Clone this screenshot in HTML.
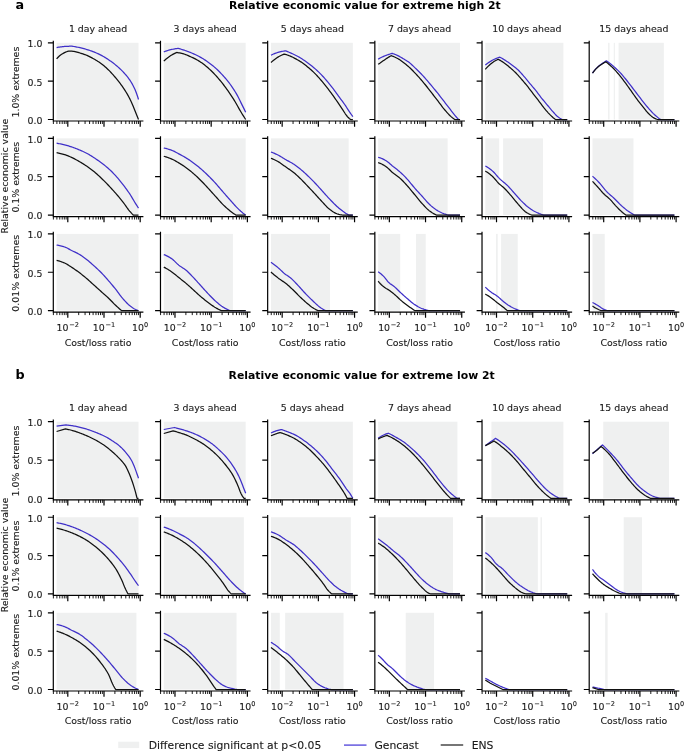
<!DOCTYPE html>
<html><head><meta charset="utf-8"><style>html,body{margin:0;padding:0;background:#fff;}svg{display:block;}</style></head>
<body>
<svg width="685" height="753" viewBox="0 0 685 753" font-family="'DejaVu Sans', 'Liberation Sans', sans-serif">
<rect width="685" height="753" fill="#fff"/>
<text x="15.4" y="8.9" font-size="12.74" font-weight="bold">a</text>
<text x="228.9" y="9.0" font-size="10.85" font-weight="bold">Relative economic value for extreme high 2t</text>
<rect x="56.60" y="42.80" width="81.90" height="76.70" fill="#eff0f0"/>
<path d="M56.60,47.51 L57.60,47.34 L58.60,47.18 L59.60,47.03 L60.60,46.89 L61.60,46.76 L62.60,46.65 L63.60,46.56 L64.60,46.49 L65.60,46.43 L66.60,46.37 L67.60,46.32 L68.60,46.27 L69.60,46.24 L70.60,46.21 L71.60,46.20 L71.90,46.20 L72.90,46.34 L73.90,46.50 L74.90,46.67 L75.90,46.85 L76.90,47.04 L77.90,47.24 L78.90,47.45 L79.90,47.66 L80.90,47.90 L81.90,48.14 L82.90,48.40 L83.90,48.67 L84.90,48.95 L85.90,49.23 L86.90,49.53 L87.90,49.83 L88.90,50.15 L89.90,50.48 L90.90,50.82 L91.90,51.18 L92.90,51.55 L93.90,51.93 L94.90,52.33 L95.90,52.76 L96.90,53.20 L97.90,53.66 L98.90,54.14 L99.90,54.64 L100.90,55.15 L101.90,55.67 L102.90,56.23 L103.90,56.80 L104.90,57.40 L105.90,58.02 L106.90,58.65 L107.90,59.30 L108.90,59.96 L109.90,60.65 L110.90,61.35 L111.90,62.08 L112.90,62.82 L113.90,63.59 L114.90,64.38 L115.90,65.20 L116.90,66.03 L117.90,66.89 L118.90,67.77 L119.90,68.68 L120.90,69.63 L121.90,70.62 L122.90,71.64 L123.90,72.71 L124.90,73.82 L125.90,74.97 L126.90,76.18 L127.90,77.44 L128.90,78.79 L129.90,80.21 L130.90,81.73 L131.90,83.38 L132.90,85.19 L133.90,87.17 L134.90,89.34 L135.90,91.80 L136.90,94.56 L137.90,97.57 L138.50,99.48" fill="none" stroke="#3f30c8" stroke-width="1.25" stroke-linejoin="round" stroke-linecap="butt"/>
<path d="M56.60,58.90 L57.60,57.79 L58.60,56.75 L59.60,55.80 L60.60,54.96 L61.60,54.27 L62.60,53.69 L63.60,53.13 L64.60,52.61 L65.60,52.15 L66.60,51.75 L67.60,51.44 L68.60,51.22 L68.98,51.16 L69.98,51.17 L70.98,51.20 L71.98,51.24 L72.98,51.29 L73.98,51.36 L74.98,51.54 L75.98,51.78 L76.98,52.08 L77.98,52.39 L78.98,52.70 L79.98,52.99 L80.98,53.30 L81.98,53.61 L82.98,53.94 L83.98,54.29 L84.98,54.66 L85.98,55.04 L86.98,55.45 L87.98,55.88 L88.98,56.35 L89.98,56.85 L90.98,57.36 L91.98,57.89 L92.98,58.44 L93.98,59.00 L94.98,59.57 L95.98,60.17 L96.98,60.78 L97.98,61.42 L98.98,62.08 L99.98,62.77 L100.98,63.48 L101.98,64.23 L102.98,65.02 L103.98,65.84 L104.98,66.70 L105.98,67.59 L106.98,68.50 L107.98,69.45 L108.98,70.42 L109.98,71.43 L110.98,72.49 L111.98,73.58 L112.98,74.71 L113.98,75.86 L114.98,77.03 L115.98,78.22 L116.98,79.42 L117.98,80.64 L118.98,81.90 L119.98,83.19 L120.98,84.52 L121.98,85.90 L122.98,87.34 L123.98,88.84 L124.98,90.39 L125.98,91.99 L126.98,93.66 L127.98,95.41 L128.98,97.24 L129.98,99.15 L130.98,101.20 L131.98,103.46 L132.98,105.86 L133.98,108.31 L134.98,110.73 L135.98,113.17 L136.98,115.65 L137.98,118.17 L138.50,119.50" fill="none" stroke="#111" stroke-width="1.25" stroke-linejoin="round" stroke-linecap="butt"/>
<path d="M53.30,41.27 L53.30,121.00 L142.80,121.00" fill="none" stroke="#000" stroke-width="1.2" stroke-linecap="square"/>
<path d="M47.90,119.50H53.30M47.90,81.15H53.30M47.90,42.80H53.30M67.80,121.00V126.70M104.00,121.00V126.70M140.20,121.00V126.70" stroke="#000" stroke-width="1.2" fill="none"/>
<path d="M53.39,121.00V124.00M56.90,121.00V124.00M59.77,121.00V124.00M62.19,121.00V124.00M64.29,121.00V124.00M66.14,121.00V124.00M78.70,121.00V124.00M85.07,121.00V124.00M89.59,121.00V124.00M93.10,121.00V124.00M95.97,121.00V124.00M98.39,121.00V124.00M100.49,121.00V124.00M102.34,121.00V124.00M114.90,121.00V124.00M121.27,121.00V124.00M125.79,121.00V124.00M129.30,121.00V124.00M132.17,121.00V124.00M134.59,121.00V124.00M136.69,121.00V124.00M138.54,121.00V124.00" stroke="#000" stroke-width="0.9" fill="none"/>
<text x="42.4" y="123.90" font-size="9.4" text-anchor="end" fill="#1a1a1a" stroke="#1a1a1a" stroke-width="0.12">0.0</text>
<text x="42.4" y="85.55" font-size="9.4" text-anchor="end" fill="#1a1a1a" stroke="#1a1a1a" stroke-width="0.12">0.5</text>
<text x="42.4" y="47.20" font-size="9.4" text-anchor="end" fill="#1a1a1a" stroke="#1a1a1a" stroke-width="0.12">1.0</text>
<text x="98.05" y="32.20" font-size="9.4" text-anchor="middle" fill="#1a1a1a" stroke="#1a1a1a" stroke-width="0.12">1 day ahead</text>
<rect x="163.78" y="42.80" width="81.90" height="76.70" fill="#eff0f0"/>
<path d="M163.78,51.89 L164.78,51.51 L165.78,51.15 L166.78,50.81 L167.78,50.49 L168.78,50.20 L169.78,49.93 L170.78,49.70 L171.78,49.47 L172.78,49.26 L173.78,49.06 L174.78,48.87 L175.78,48.70 L176.78,48.55 L177.78,48.43 L178.17,48.39 L179.17,48.66 L180.17,48.94 L181.17,49.23 L182.17,49.53 L183.17,49.85 L184.17,50.18 L185.17,50.51 L186.17,50.86 L187.17,51.22 L188.17,51.59 L189.17,51.97 L190.17,52.37 L191.17,52.78 L192.17,53.21 L193.17,53.64 L194.17,54.09 L195.17,54.55 L196.17,55.03 L197.17,55.52 L198.17,56.02 L199.17,56.55 L200.17,57.09 L201.17,57.65 L202.17,58.23 L203.17,58.83 L204.17,59.46 L205.17,60.11 L206.17,60.77 L207.17,61.46 L208.17,62.16 L209.17,62.89 L210.17,63.64 L211.17,64.41 L212.17,65.21 L213.17,66.03 L214.17,66.88 L215.17,67.75 L216.17,68.65 L217.17,69.58 L218.17,70.54 L219.17,71.54 L220.17,72.56 L221.17,73.61 L222.17,74.68 L223.17,75.77 L224.17,76.88 L225.17,78.01 L226.17,79.18 L227.17,80.38 L228.17,81.62 L229.17,82.91 L230.17,84.25 L231.17,85.64 L232.17,87.09 L233.17,88.59 L234.17,90.15 L235.17,91.77 L236.17,93.44 L237.17,95.17 L238.17,97.02 L239.17,99.00 L240.17,101.07 L241.17,103.13 L242.17,105.15 L243.17,107.15 L244.17,109.15 L245.17,111.16 L245.68,112.18" fill="none" stroke="#3f30c8" stroke-width="1.25" stroke-linejoin="round" stroke-linecap="butt"/>
<path d="M163.78,61.09 L164.78,60.17 L165.78,59.29 L166.78,58.44 L167.78,57.65 L168.78,56.90 L169.78,56.21 L170.78,55.57 L171.78,54.96 L172.78,54.38 L173.78,53.83 L174.78,53.33 L175.78,52.86 L176.71,52.47 L177.71,52.60 L178.71,52.76 L179.71,52.94 L180.71,53.15 L181.71,53.39 L182.71,53.64 L183.71,53.91 L184.71,54.23 L185.71,54.59 L186.71,54.99 L187.71,55.42 L188.71,55.87 L189.71,56.32 L190.71,56.77 L191.71,57.22 L192.71,57.68 L193.71,58.15 L194.71,58.65 L195.71,59.16 L196.71,59.70 L197.71,60.26 L198.71,60.86 L199.71,61.49 L200.71,62.16 L201.71,62.86 L202.71,63.58 L203.71,64.33 L204.71,65.10 L205.71,65.89 L206.71,66.72 L207.71,67.57 L208.71,68.46 L209.71,69.38 L210.71,70.32 L211.71,71.28 L212.71,72.27 L213.71,73.28 L214.71,74.33 L215.71,75.41 L216.71,76.52 L217.71,77.65 L218.71,78.81 L219.71,79.99 L220.71,81.19 L221.71,82.43 L222.71,83.70 L223.71,85.00 L224.71,86.32 L225.71,87.67 L226.71,89.05 L227.71,90.44 L228.71,91.87 L229.71,93.32 L230.71,94.80 L231.71,96.31 L232.71,97.86 L233.71,99.44 L234.71,101.05 L235.71,102.76 L236.71,104.52 L237.71,106.32 L238.71,108.12 L239.71,109.87 L240.71,111.55 L241.71,113.20 L242.71,114.82 L243.71,116.42 L244.71,118.00 L245.68,119.50" fill="none" stroke="#111" stroke-width="1.25" stroke-linejoin="round" stroke-linecap="butt"/>
<path d="M160.48,41.27 L160.48,121.00 L249.98,121.00" fill="none" stroke="#000" stroke-width="1.2" stroke-linecap="square"/>
<path d="M155.08,119.50H160.48M155.08,81.15H160.48M155.08,42.80H160.48M174.98,121.00V126.70M211.18,121.00V126.70M247.38,121.00V126.70" stroke="#000" stroke-width="1.2" fill="none"/>
<path d="M160.57,121.00V124.00M164.08,121.00V124.00M166.95,121.00V124.00M169.37,121.00V124.00M171.47,121.00V124.00M173.32,121.00V124.00M185.88,121.00V124.00M192.25,121.00V124.00M196.77,121.00V124.00M200.28,121.00V124.00M203.15,121.00V124.00M205.57,121.00V124.00M207.67,121.00V124.00M209.52,121.00V124.00M222.08,121.00V124.00M228.45,121.00V124.00M232.97,121.00V124.00M236.48,121.00V124.00M239.35,121.00V124.00M241.77,121.00V124.00M243.87,121.00V124.00M245.72,121.00V124.00" stroke="#000" stroke-width="0.9" fill="none"/>
<text x="205.23" y="32.20" font-size="9.4" text-anchor="middle" fill="#1a1a1a" stroke="#1a1a1a" stroke-width="0.12">3 days ahead</text>
<rect x="270.96" y="42.80" width="81.90" height="76.70" fill="#eff0f0"/>
<path d="M270.96,55.20 L271.96,54.70 L272.96,54.23 L273.96,53.80 L274.96,53.41 L275.96,53.07 L276.96,52.75 L277.96,52.46 L278.96,52.19 L279.96,51.94 L280.96,51.70 L281.96,51.47 L282.96,51.26 L283.96,51.07 L284.96,50.89 L285.50,50.80 L286.50,51.20 L287.50,51.61 L288.50,52.03 L289.50,52.46 L290.50,52.90 L291.50,53.35 L292.50,53.80 L293.50,54.26 L294.50,54.73 L295.50,55.20 L296.50,55.70 L297.50,56.21 L298.50,56.76 L299.50,57.34 L300.50,57.95 L301.50,58.59 L302.50,59.25 L303.50,59.93 L304.50,60.60 L305.50,61.29 L306.50,62.00 L307.50,62.72 L308.50,63.46 L309.50,64.22 L310.50,64.99 L311.50,65.78 L312.50,66.59 L313.50,67.42 L314.50,68.27 L315.50,69.14 L316.50,70.04 L317.50,70.96 L318.50,71.90 L319.50,72.87 L320.50,73.87 L321.50,74.89 L322.50,75.95 L323.50,77.04 L324.50,78.17 L325.50,79.32 L326.50,80.49 L327.50,81.68 L328.50,82.89 L329.50,84.12 L330.50,85.37 L331.50,86.64 L332.50,87.93 L333.50,89.23 L334.50,90.56 L335.50,91.91 L336.50,93.28 L337.50,94.66 L338.50,96.04 L339.50,97.41 L340.50,98.76 L341.50,100.11 L342.50,101.46 L343.50,102.83 L344.50,104.24 L345.50,105.69 L346.50,107.23 L347.50,108.81 L348.50,110.38 L349.50,111.91 L350.50,113.35 L351.50,114.76 L352.50,116.12 L352.86,116.60" fill="none" stroke="#3f30c8" stroke-width="1.25" stroke-linejoin="round" stroke-linecap="butt"/>
<path d="M270.96,62.50 L271.96,61.63 L272.96,60.79 L273.96,59.99 L274.96,59.23 L275.96,58.50 L276.96,57.79 L277.96,57.12 L278.96,56.51 L279.96,55.96 L280.96,55.47 L281.96,55.00 L282.96,54.58 L283.96,54.21 L284.30,54.10 L285.30,54.37 L286.30,54.68 L287.30,55.01 L288.30,55.37 L289.30,55.74 L290.30,56.14 L291.30,56.57 L292.30,57.05 L293.30,57.55 L294.30,58.08 L295.30,58.62 L296.30,59.16 L297.30,59.71 L298.30,60.28 L299.30,60.86 L300.30,61.47 L301.30,62.10 L302.30,62.77 L303.30,63.49 L304.30,64.25 L305.30,65.04 L306.30,65.85 L307.30,66.67 L308.30,67.50 L309.30,68.34 L310.30,69.19 L311.30,70.07 L312.30,70.98 L313.30,71.91 L314.30,72.88 L315.30,73.88 L316.30,74.92 L317.30,75.98 L318.30,77.08 L319.30,78.19 L320.30,79.33 L321.30,80.51 L322.30,81.71 L323.30,82.94 L324.30,84.18 L325.30,85.42 L326.30,86.68 L327.30,87.94 L328.30,89.22 L329.30,90.51 L330.30,91.83 L331.30,93.17 L332.30,94.54 L333.30,95.93 L334.30,97.35 L335.30,98.78 L336.30,100.23 L337.30,101.69 L338.30,103.17 L339.30,104.68 L340.30,106.20 L341.30,107.71 L342.30,109.21 L343.30,110.70 L344.30,112.25 L345.30,113.78 L346.30,115.22 L347.30,116.49 L348.30,117.56 L349.30,118.52 L350.30,119.35 L350.50,119.50 L352.86,119.50" fill="none" stroke="#111" stroke-width="1.25" stroke-linejoin="round" stroke-linecap="butt"/>
<path d="M267.66,41.27 L267.66,121.00 L357.16,121.00" fill="none" stroke="#000" stroke-width="1.2" stroke-linecap="square"/>
<path d="M262.26,119.50H267.66M262.26,81.15H267.66M262.26,42.80H267.66M282.16,121.00V126.70M318.36,121.00V126.70M354.56,121.00V126.70" stroke="#000" stroke-width="1.2" fill="none"/>
<path d="M267.75,121.00V124.00M271.26,121.00V124.00M274.13,121.00V124.00M276.55,121.00V124.00M278.65,121.00V124.00M280.50,121.00V124.00M293.06,121.00V124.00M299.43,121.00V124.00M303.95,121.00V124.00M307.46,121.00V124.00M310.33,121.00V124.00M312.75,121.00V124.00M314.85,121.00V124.00M316.70,121.00V124.00M329.26,121.00V124.00M335.63,121.00V124.00M340.15,121.00V124.00M343.66,121.00V124.00M346.53,121.00V124.00M348.95,121.00V124.00M351.05,121.00V124.00M352.90,121.00V124.00" stroke="#000" stroke-width="0.9" fill="none"/>
<text x="312.41" y="32.20" font-size="9.4" text-anchor="middle" fill="#1a1a1a" stroke="#1a1a1a" stroke-width="0.12">5 days ahead</text>
<rect x="378.14" y="42.80" width="81.90" height="76.70" fill="#eff0f0"/>
<path d="M378.14,59.20 L379.14,58.58 L380.14,58.03 L381.14,57.52 L382.14,57.04 L383.14,56.59 L384.14,56.16 L385.14,55.75 L386.14,55.37 L387.14,55.01 L388.14,54.66 L389.14,54.32 L390.14,54.01 L391.14,53.71 L392.14,53.44 L392.30,53.40 L393.30,53.75 L394.30,54.12 L395.30,54.53 L396.30,54.95 L397.30,55.41 L398.30,55.89 L399.30,56.41 L400.30,56.97 L401.30,57.55 L402.30,58.14 L403.30,58.74 L404.30,59.33 L405.30,59.93 L406.30,60.54 L407.30,61.17 L408.30,61.85 L409.30,62.58 L410.30,63.38 L411.30,64.26 L412.30,65.20 L413.30,66.16 L414.30,67.13 L415.30,68.08 L416.30,69.04 L417.30,70.00 L418.30,70.97 L419.30,71.97 L420.30,72.98 L421.30,74.02 L422.30,75.08 L423.30,76.17 L424.30,77.28 L425.30,78.41 L426.30,79.54 L427.30,80.69 L428.30,81.86 L429.30,83.04 L430.30,84.23 L431.30,85.43 L432.30,86.64 L433.30,87.84 L434.30,89.05 L435.30,90.27 L436.30,91.49 L437.30,92.73 L438.30,93.97 L439.30,95.24 L440.30,96.53 L441.30,97.83 L442.30,99.13 L443.30,100.43 L444.30,101.73 L445.30,103.02 L446.30,104.31 L447.30,105.60 L448.30,106.88 L449.30,108.17 L450.30,109.46 L451.30,110.76 L452.30,112.06 L453.30,113.35 L454.30,114.61 L455.30,115.82 L456.30,117.01 L457.30,118.16 L458.30,119.28 L458.50,119.50 L460.04,119.50" fill="none" stroke="#3f30c8" stroke-width="1.25" stroke-linejoin="round" stroke-linecap="butt"/>
<path d="M378.14,64.30 L379.14,63.66 L380.14,63.01 L381.14,62.31 L382.14,61.60 L383.14,60.87 L384.14,60.15 L385.14,59.45 L386.14,58.78 L387.14,58.13 L388.14,57.49 L389.14,56.87 L390.14,56.27 L391.10,55.70 L392.10,56.01 L393.10,56.36 L394.10,56.77 L395.10,57.21 L396.10,57.69 L397.10,58.19 L398.10,58.73 L399.10,59.35 L400.10,60.04 L401.10,60.76 L402.10,61.52 L403.10,62.27 L404.10,63.03 L405.10,63.80 L406.10,64.58 L407.10,65.40 L408.10,66.24 L409.10,67.11 L410.10,68.03 L411.10,68.99 L412.10,69.99 L413.10,71.01 L414.10,72.06 L415.10,73.10 L416.10,74.16 L417.10,75.24 L418.10,76.34 L419.10,77.45 L420.10,78.58 L421.10,79.73 L422.10,80.90 L423.10,82.09 L424.10,83.30 L425.10,84.52 L426.10,85.75 L427.10,87.00 L428.10,88.27 L429.10,89.55 L430.10,90.85 L431.10,92.15 L432.10,93.45 L433.10,94.75 L434.10,96.04 L435.10,97.33 L436.10,98.62 L437.10,99.91 L438.10,101.21 L439.10,102.52 L440.10,103.86 L441.10,105.21 L442.10,106.54 L443.10,107.84 L444.10,109.08 L445.10,110.27 L446.10,111.44 L447.10,112.58 L448.10,113.68 L449.10,114.72 L450.10,115.70 L451.10,116.62 L452.10,117.48 L453.10,118.30 L454.10,119.07 L454.70,119.50 L455.70,119.50 L456.70,119.50 L457.70,119.50 L458.70,119.50 L459.70,119.50 L460.04,119.50" fill="none" stroke="#111" stroke-width="1.25" stroke-linejoin="round" stroke-linecap="butt"/>
<path d="M374.84,41.27 L374.84,121.00 L464.34,121.00" fill="none" stroke="#000" stroke-width="1.2" stroke-linecap="square"/>
<path d="M369.44,119.50H374.84M369.44,81.15H374.84M369.44,42.80H374.84M389.34,121.00V126.70M425.54,121.00V126.70M461.74,121.00V126.70" stroke="#000" stroke-width="1.2" fill="none"/>
<path d="M374.93,121.00V124.00M378.44,121.00V124.00M381.31,121.00V124.00M383.73,121.00V124.00M385.83,121.00V124.00M387.68,121.00V124.00M400.24,121.00V124.00M406.61,121.00V124.00M411.13,121.00V124.00M414.64,121.00V124.00M417.51,121.00V124.00M419.93,121.00V124.00M422.03,121.00V124.00M423.88,121.00V124.00M436.44,121.00V124.00M442.81,121.00V124.00M447.33,121.00V124.00M450.84,121.00V124.00M453.71,121.00V124.00M456.13,121.00V124.00M458.23,121.00V124.00M460.08,121.00V124.00" stroke="#000" stroke-width="0.9" fill="none"/>
<text x="419.59" y="32.20" font-size="9.4" text-anchor="middle" fill="#1a1a1a" stroke="#1a1a1a" stroke-width="0.12">7 days ahead</text>
<rect x="485.32" y="42.80" width="78.08" height="76.70" fill="#eff0f0"/>
<path d="M485.32,64.90 L486.32,64.16 L487.32,63.45 L488.32,62.77 L489.32,62.12 L490.32,61.50 L491.32,60.90 L492.32,60.32 L493.32,59.77 L494.32,59.27 L495.32,58.83 L496.32,58.42 L497.32,58.03 L498.32,57.68 L499.32,57.36 L499.90,57.20 L500.90,57.75 L501.90,58.32 L502.90,58.91 L503.90,59.52 L504.90,60.14 L505.90,60.78 L506.90,61.43 L507.90,62.10 L508.90,62.79 L509.90,63.50 L510.90,64.23 L511.90,64.97 L512.90,65.73 L513.90,66.49 L514.90,67.27 L515.90,68.07 L516.90,68.91 L517.90,69.81 L518.90,70.77 L519.90,71.80 L520.90,72.89 L521.90,74.01 L522.90,75.15 L523.90,76.30 L524.90,77.46 L525.90,78.66 L526.90,79.88 L527.90,81.11 L528.90,82.33 L529.90,83.54 L530.90,84.72 L531.90,85.89 L532.90,87.06 L533.90,88.24 L534.90,89.44 L535.90,90.68 L536.90,91.96 L537.90,93.29 L538.90,94.63 L539.90,95.96 L540.90,97.26 L541.90,98.52 L542.90,99.75 L543.90,100.96 L544.90,102.16 L545.90,103.35 L546.90,104.54 L547.90,105.74 L548.90,106.96 L549.90,108.17 L550.90,109.37 L551.90,110.55 L552.90,111.68 L553.90,112.79 L554.90,113.90 L555.90,114.96 L556.90,115.93 L557.90,116.75 L558.90,117.49 L559.90,118.16 L560.90,118.77 L561.90,119.28 L562.40,119.50 L563.40,119.50 L564.40,119.50 L565.40,119.50 L566.40,119.50 L567.22,119.50" fill="none" stroke="#3f30c8" stroke-width="1.25" stroke-linejoin="round" stroke-linecap="butt"/>
<path d="M485.32,69.30 L486.32,68.19 L487.32,67.13 L488.32,66.13 L489.32,65.20 L490.32,64.33 L491.32,63.50 L492.32,62.72 L493.32,62.00 L494.32,61.33 L495.32,60.74 L496.32,60.19 L497.32,59.69 L498.20,59.30 L499.20,59.83 L500.20,60.39 L501.20,60.98 L502.20,61.61 L503.20,62.26 L504.20,62.94 L505.20,63.66 L506.20,64.43 L507.20,65.23 L508.20,66.06 L509.20,66.90 L510.20,67.76 L511.20,68.62 L512.20,69.50 L513.20,70.41 L514.20,71.34 L515.20,72.30 L516.20,73.31 L517.20,74.36 L518.20,75.45 L519.20,76.57 L520.20,77.71 L521.20,78.86 L522.20,80.00 L523.20,81.16 L524.20,82.33 L525.20,83.52 L526.20,84.72 L527.20,85.95 L528.20,87.21 L529.20,88.51 L530.20,89.83 L531.20,91.16 L532.20,92.49 L533.20,93.80 L534.20,95.09 L535.20,96.38 L536.20,97.66 L537.20,98.95 L538.20,100.23 L539.20,101.53 L540.20,102.85 L541.20,104.20 L542.20,105.54 L543.20,106.86 L544.20,108.14 L545.20,109.36 L546.20,110.54 L547.20,111.69 L548.20,112.81 L549.20,113.88 L550.20,114.91 L551.20,115.88 L552.20,116.81 L553.20,117.70 L554.20,118.54 L555.20,119.35 L555.40,119.50 L556.40,119.50 L557.40,119.50 L558.40,119.50 L559.40,119.50 L560.40,119.50 L561.40,119.50 L562.40,119.50 L563.40,119.50 L564.40,119.50 L565.40,119.50 L566.40,119.50 L567.22,119.50" fill="none" stroke="#111" stroke-width="1.25" stroke-linejoin="round" stroke-linecap="butt"/>
<path d="M482.02,41.27 L482.02,121.00 L571.52,121.00" fill="none" stroke="#000" stroke-width="1.2" stroke-linecap="square"/>
<path d="M476.62,119.50H482.02M476.62,81.15H482.02M476.62,42.80H482.02M496.52,121.00V126.70M532.72,121.00V126.70M568.92,121.00V126.70" stroke="#000" stroke-width="1.2" fill="none"/>
<path d="M482.11,121.00V124.00M485.62,121.00V124.00M488.49,121.00V124.00M490.91,121.00V124.00M493.01,121.00V124.00M494.86,121.00V124.00M507.42,121.00V124.00M513.79,121.00V124.00M518.31,121.00V124.00M521.82,121.00V124.00M524.69,121.00V124.00M527.11,121.00V124.00M529.21,121.00V124.00M531.06,121.00V124.00M543.62,121.00V124.00M549.99,121.00V124.00M554.51,121.00V124.00M558.02,121.00V124.00M560.89,121.00V124.00M563.31,121.00V124.00M565.41,121.00V124.00M567.26,121.00V124.00" stroke="#000" stroke-width="0.9" fill="none"/>
<text x="526.77" y="32.20" font-size="9.4" text-anchor="middle" fill="#1a1a1a" stroke="#1a1a1a" stroke-width="0.12">10 days ahead</text>
<rect x="608.07" y="42.80" width="1.46" height="76.70" fill="#eff0f0"/>
<rect x="613.76" y="42.80" width="1.17" height="76.70" fill="#eff0f0"/>
<rect x="618.58" y="42.80" width="45.26" height="76.70" fill="#eff0f0"/>
<path d="M592.50,73.10 L593.50,71.70 L594.50,70.39 L595.50,69.19 L596.50,68.10 L597.50,67.13 L598.50,66.28 L599.50,65.49 L600.50,64.76 L601.50,64.04 L602.50,63.33 L603.50,62.65 L604.50,61.98 L605.50,61.35 L606.40,60.80 L607.40,61.51 L608.40,62.25 L609.40,63.01 L610.40,63.79 L611.40,64.60 L612.40,65.42 L613.40,66.27 L614.40,67.14 L615.40,68.02 L616.40,68.94 L617.40,69.89 L618.40,70.87 L619.40,71.88 L620.40,72.92 L621.40,74.02 L622.40,75.16 L623.40,76.34 L624.40,77.55 L625.40,78.77 L626.40,79.99 L627.40,81.25 L628.40,82.53 L629.40,83.83 L630.40,85.14 L631.40,86.45 L632.40,87.75 L633.40,89.06 L634.40,90.37 L635.40,91.69 L636.40,93.00 L637.40,94.31 L638.40,95.61 L639.40,96.91 L640.40,98.21 L641.40,99.51 L642.40,100.79 L643.40,102.05 L644.40,103.30 L645.40,104.54 L646.40,105.77 L647.40,106.98 L648.40,108.16 L649.40,109.30 L650.40,110.41 L651.40,111.50 L652.40,112.56 L653.40,113.58 L654.40,114.55 L655.40,115.45 L656.40,116.32 L657.40,117.14 L658.40,117.93 L659.40,118.67 L660.40,119.37 L660.60,119.50 L661.60,119.50 L662.60,119.50 L663.60,119.50 L664.60,119.50 L665.60,119.50 L666.60,119.50 L667.60,119.50 L668.60,119.50 L669.60,119.50 L670.60,119.50 L671.60,119.50 L672.60,119.50 L673.60,119.50 L674.40,119.50" fill="none" stroke="#3f30c8" stroke-width="1.25" stroke-linejoin="round" stroke-linecap="butt"/>
<path d="M592.50,73.10 L593.50,71.79 L594.50,70.56 L595.50,69.42 L596.50,68.38 L597.50,67.45 L598.50,66.60 L599.50,65.82 L600.50,65.09 L601.50,64.40 L602.50,63.74 L603.50,63.11 L604.50,62.51 L605.50,61.96 L605.80,61.80 L606.80,62.55 L607.80,63.34 L608.80,64.17 L609.80,65.03 L610.80,65.93 L611.80,66.86 L612.80,67.81 L613.80,68.80 L614.80,69.84 L615.80,70.93 L616.80,72.06 L617.80,73.23 L618.80,74.42 L619.80,75.63 L620.80,76.88 L621.80,78.16 L622.80,79.47 L623.80,80.80 L624.80,82.13 L625.80,83.48 L626.80,84.85 L627.80,86.24 L628.80,87.65 L629.80,89.05 L630.80,90.46 L631.80,91.87 L632.80,93.30 L633.80,94.74 L634.80,96.17 L635.80,97.57 L636.80,98.93 L637.80,100.27 L638.80,101.58 L639.80,102.87 L640.80,104.14 L641.80,105.40 L642.80,106.65 L643.80,107.92 L644.80,109.21 L645.80,110.48 L646.80,111.68 L647.80,112.79 L648.80,113.79 L649.80,114.74 L650.80,115.64 L651.80,116.49 L652.80,117.24 L653.80,117.88 L654.80,118.40 L655.80,118.86 L656.80,119.24 L657.70,119.50 L674.40,119.50" fill="none" stroke="#111" stroke-width="1.25" stroke-linejoin="round" stroke-linecap="butt"/>
<path d="M589.20,41.27 L589.20,121.00 L678.70,121.00" fill="none" stroke="#000" stroke-width="1.2" stroke-linecap="square"/>
<path d="M583.80,119.50H589.20M583.80,81.15H589.20M583.80,42.80H589.20M603.70,121.00V126.70M639.90,121.00V126.70M676.10,121.00V126.70" stroke="#000" stroke-width="1.2" fill="none"/>
<path d="M589.29,121.00V124.00M592.80,121.00V124.00M595.67,121.00V124.00M598.09,121.00V124.00M600.19,121.00V124.00M602.04,121.00V124.00M614.60,121.00V124.00M620.97,121.00V124.00M625.49,121.00V124.00M629.00,121.00V124.00M631.87,121.00V124.00M634.29,121.00V124.00M636.39,121.00V124.00M638.24,121.00V124.00M650.80,121.00V124.00M657.17,121.00V124.00M661.69,121.00V124.00M665.20,121.00V124.00M668.07,121.00V124.00M670.49,121.00V124.00M672.59,121.00V124.00M674.44,121.00V124.00" stroke="#000" stroke-width="0.9" fill="none"/>
<text x="633.95" y="32.20" font-size="9.4" text-anchor="middle" fill="#1a1a1a" stroke="#1a1a1a" stroke-width="0.12">15 days ahead</text>
<text transform="translate(19.1,82.15) rotate(-90)" font-size="9.4" text-anchor="middle" fill="#1a1a1a" stroke="#1a1a1a" stroke-width="0.12">1.0% extremes</text>
<rect x="56.60" y="138.35" width="81.90" height="76.70" fill="#eff0f0"/>
<path d="M56.60,143.24 L57.60,143.40 L58.60,143.57 L59.60,143.75 L60.60,143.95 L61.60,144.16 L62.60,144.38 L63.60,144.61 L64.60,144.85 L65.60,145.10 L66.60,145.37 L67.60,145.66 L68.60,145.96 L69.60,146.28 L70.60,146.61 L71.60,146.94 L72.60,147.28 L73.60,147.63 L74.60,147.99 L75.60,148.37 L76.60,148.76 L77.60,149.16 L78.60,149.56 L79.60,149.98 L80.60,150.40 L81.60,150.84 L82.60,151.28 L83.60,151.74 L84.60,152.22 L85.60,152.71 L86.60,153.22 L87.60,153.76 L88.60,154.33 L89.60,154.91 L90.60,155.52 L91.60,156.14 L92.60,156.78 L93.60,157.42 L94.60,158.07 L95.60,158.74 L96.60,159.42 L97.60,160.12 L98.60,160.83 L99.60,161.55 L100.60,162.29 L101.60,163.03 L102.60,163.79 L103.60,164.55 L104.60,165.33 L105.60,166.13 L106.60,166.95 L107.60,167.80 L108.60,168.68 L109.60,169.59 L110.60,170.54 L111.60,171.52 L112.60,172.52 L113.60,173.56 L114.60,174.61 L115.60,175.69 L116.60,176.80 L117.60,177.94 L118.60,179.10 L119.60,180.30 L120.60,181.53 L121.60,182.78 L122.60,184.05 L123.60,185.34 L124.60,186.66 L125.60,188.01 L126.60,189.39 L127.60,190.79 L128.60,192.24 L129.60,193.72 L130.60,195.25 L131.60,196.88 L132.60,198.57 L133.60,200.28 L134.60,201.96 L135.60,203.58 L136.60,205.19 L137.60,206.78 L138.50,208.20" fill="none" stroke="#3f30c8" stroke-width="1.25" stroke-linejoin="round" stroke-linecap="butt"/>
<path d="M56.60,152.73 L57.60,152.90 L58.60,153.09 L59.60,153.30 L60.60,153.53 L61.60,153.78 L62.60,154.05 L63.60,154.33 L64.60,154.63 L65.60,154.95 L66.60,155.30 L67.60,155.68 L68.60,156.09 L69.60,156.51 L70.60,156.96 L71.60,157.41 L72.60,157.88 L73.60,158.37 L74.60,158.90 L75.60,159.44 L76.60,160.00 L77.60,160.57 L78.60,161.14 L79.60,161.72 L80.60,162.31 L81.60,162.90 L82.60,163.51 L83.60,164.13 L84.60,164.77 L85.60,165.42 L86.60,166.08 L87.60,166.77 L88.60,167.47 L89.60,168.19 L90.60,168.93 L91.60,169.68 L92.60,170.46 L93.60,171.26 L94.60,172.08 L95.60,172.93 L96.60,173.82 L97.60,174.72 L98.60,175.64 L99.60,176.57 L100.60,177.52 L101.60,178.47 L102.60,179.43 L103.60,180.41 L104.60,181.40 L105.60,182.41 L106.60,183.42 L107.60,184.46 L108.60,185.50 L109.60,186.56 L110.60,187.63 L111.60,188.72 L112.60,189.82 L113.60,190.94 L114.60,192.07 L115.60,193.21 L116.60,194.36 L117.60,195.52 L118.60,196.69 L119.60,197.88 L120.60,199.08 L121.60,200.31 L122.60,201.57 L123.60,202.87 L124.60,204.25 L125.60,205.68 L126.60,207.11 L127.60,208.50 L128.60,209.81 L129.60,211.04 L130.60,212.21 L131.60,213.34 L132.60,214.41 L133.21,215.05 L138.50,215.05" fill="none" stroke="#111" stroke-width="1.25" stroke-linejoin="round" stroke-linecap="butt"/>
<path d="M53.30,136.82 L53.30,216.55 L142.80,216.55" fill="none" stroke="#000" stroke-width="1.2" stroke-linecap="square"/>
<path d="M47.90,215.05H53.30M47.90,176.70H53.30M47.90,138.35H53.30M67.80,216.55V222.25M104.00,216.55V222.25M140.20,216.55V222.25" stroke="#000" stroke-width="1.2" fill="none"/>
<path d="M53.39,216.55V219.55M56.90,216.55V219.55M59.77,216.55V219.55M62.19,216.55V219.55M64.29,216.55V219.55M66.14,216.55V219.55M78.70,216.55V219.55M85.07,216.55V219.55M89.59,216.55V219.55M93.10,216.55V219.55M95.97,216.55V219.55M98.39,216.55V219.55M100.49,216.55V219.55M102.34,216.55V219.55M114.90,216.55V219.55M121.27,216.55V219.55M125.79,216.55V219.55M129.30,216.55V219.55M132.17,216.55V219.55M134.59,216.55V219.55M136.69,216.55V219.55M138.54,216.55V219.55" stroke="#000" stroke-width="0.9" fill="none"/>
<text x="42.4" y="219.45" font-size="9.4" text-anchor="end" fill="#1a1a1a" stroke="#1a1a1a" stroke-width="0.12">0.0</text>
<text x="42.4" y="181.10" font-size="9.4" text-anchor="end" fill="#1a1a1a" stroke="#1a1a1a" stroke-width="0.12">0.5</text>
<text x="42.4" y="142.75" font-size="9.4" text-anchor="end" fill="#1a1a1a" stroke="#1a1a1a" stroke-width="0.12">1.0</text>
<rect x="163.78" y="138.35" width="81.90" height="76.70" fill="#eff0f0"/>
<path d="M163.78,148.06 L164.78,148.24 L165.78,148.46 L166.78,148.71 L167.78,148.99 L168.78,149.29 L169.78,149.62 L170.78,149.96 L171.78,150.31 L172.78,150.72 L173.78,151.18 L174.78,151.68 L175.78,152.20 L176.78,152.75 L177.78,153.30 L178.78,153.84 L179.78,154.37 L180.78,154.90 L181.78,155.44 L182.78,155.99 L183.78,156.56 L184.78,157.13 L185.78,157.73 L186.78,158.35 L187.78,158.98 L188.78,159.64 L189.78,160.31 L190.78,161.00 L191.78,161.71 L192.78,162.43 L193.78,163.16 L194.78,163.91 L195.78,164.68 L196.78,165.47 L197.78,166.27 L198.78,167.09 L199.78,167.93 L200.78,168.77 L201.78,169.64 L202.78,170.52 L203.78,171.43 L204.78,172.35 L205.78,173.28 L206.78,174.23 L207.78,175.20 L208.78,176.18 L209.78,177.18 L210.78,178.19 L211.78,179.23 L212.78,180.28 L213.78,181.34 L214.78,182.42 L215.78,183.52 L216.78,184.65 L217.78,185.80 L218.78,186.97 L219.78,188.15 L220.78,189.33 L221.78,190.50 L222.78,191.66 L223.78,192.81 L224.78,193.96 L225.78,195.11 L226.78,196.25 L227.78,197.39 L228.78,198.52 L229.78,199.64 L230.78,200.77 L231.78,201.90 L232.78,203.03 L233.78,204.16 L234.78,205.27 L235.78,206.35 L236.78,207.39 L237.78,208.40 L238.78,209.38 L239.78,210.33 L240.78,211.23 L241.78,212.09 L242.78,212.91 L243.78,213.68 L244.78,214.42 L245.68,215.05" fill="none" stroke="#3f30c8" stroke-width="1.25" stroke-linejoin="round" stroke-linecap="butt"/>
<path d="M163.78,156.23 L164.78,156.51 L165.78,156.81 L166.78,157.14 L167.78,157.49 L168.78,157.86 L169.78,158.25 L170.78,158.66 L171.78,159.09 L172.78,159.54 L173.78,160.04 L174.78,160.57 L175.78,161.13 L176.78,161.70 L177.78,162.29 L178.78,162.88 L179.78,163.48 L180.78,164.10 L181.78,164.74 L182.78,165.39 L183.78,166.07 L184.78,166.76 L185.78,167.47 L186.78,168.19 L187.78,168.94 L188.78,169.71 L189.78,170.50 L190.78,171.32 L191.78,172.14 L192.78,172.99 L193.78,173.85 L194.78,174.74 L195.78,175.64 L196.78,176.57 L197.78,177.52 L198.78,178.48 L199.78,179.46 L200.78,180.45 L201.78,181.46 L202.78,182.50 L203.78,183.55 L204.78,184.62 L205.78,185.70 L206.78,186.78 L207.78,187.86 L208.78,188.95 L209.78,190.04 L210.78,191.14 L211.78,192.24 L212.78,193.35 L213.78,194.45 L214.78,195.56 L215.78,196.66 L216.78,197.78 L217.78,198.92 L218.78,200.05 L219.78,201.17 L220.78,202.27 L221.78,203.33 L222.78,204.35 L223.78,205.33 L224.78,206.28 L225.78,207.21 L226.78,208.11 L227.78,208.99 L228.78,209.84 L229.78,210.66 L230.78,211.45 L231.78,212.22 L232.78,212.96 L233.78,213.67 L234.78,214.36 L235.78,215.02 L235.83,215.05 L245.68,215.05" fill="none" stroke="#111" stroke-width="1.25" stroke-linejoin="round" stroke-linecap="butt"/>
<path d="M160.48,136.82 L160.48,216.55 L249.98,216.55" fill="none" stroke="#000" stroke-width="1.2" stroke-linecap="square"/>
<path d="M155.08,215.05H160.48M155.08,176.70H160.48M155.08,138.35H160.48M174.98,216.55V222.25M211.18,216.55V222.25M247.38,216.55V222.25" stroke="#000" stroke-width="1.2" fill="none"/>
<path d="M160.57,216.55V219.55M164.08,216.55V219.55M166.95,216.55V219.55M169.37,216.55V219.55M171.47,216.55V219.55M173.32,216.55V219.55M185.88,216.55V219.55M192.25,216.55V219.55M196.77,216.55V219.55M200.28,216.55V219.55M203.15,216.55V219.55M205.57,216.55V219.55M207.67,216.55V219.55M209.52,216.55V219.55M222.08,216.55V219.55M228.45,216.55V219.55M232.97,216.55V219.55M236.48,216.55V219.55M239.35,216.55V219.55M241.77,216.55V219.55M243.87,216.55V219.55M245.72,216.55V219.55" stroke="#000" stroke-width="0.9" fill="none"/>
<rect x="270.96" y="138.35" width="77.71" height="76.70" fill="#eff0f0"/>
<path d="M270.96,152.00 L271.96,152.37 L272.96,152.76 L273.96,153.18 L274.96,153.62 L275.96,154.07 L276.96,154.55 L277.96,155.04 L278.96,155.54 L279.96,156.10 L280.96,156.69 L281.96,157.30 L282.96,157.93 L283.96,158.56 L284.96,159.18 L285.96,159.77 L286.96,160.34 L287.96,160.88 L288.96,161.41 L289.96,161.95 L290.96,162.50 L291.96,163.07 L292.96,163.67 L293.96,164.32 L294.96,165.00 L295.96,165.71 L296.96,166.45 L297.96,167.21 L298.96,167.99 L299.96,168.79 L300.96,169.61 L301.96,170.45 L302.96,171.32 L303.96,172.22 L304.96,173.13 L305.96,174.06 L306.96,175.01 L307.96,175.95 L308.96,176.91 L309.96,177.88 L310.96,178.87 L311.96,179.87 L312.96,180.89 L313.96,181.91 L314.96,182.95 L315.96,184.01 L316.96,185.09 L317.96,186.19 L318.96,187.30 L319.96,188.42 L320.96,189.53 L321.96,190.65 L322.96,191.75 L323.96,192.86 L324.96,193.98 L325.96,195.09 L326.96,196.20 L327.96,197.30 L328.96,198.38 L329.96,199.43 L330.96,200.48 L331.96,201.53 L332.96,202.56 L333.96,203.57 L334.96,204.56 L335.96,205.51 L336.96,206.42 L337.96,207.30 L338.96,208.16 L339.96,208.99 L340.96,209.80 L341.96,210.58 L342.96,211.34 L343.96,212.06 L344.96,212.75 L345.96,213.41 L346.96,214.04 L347.96,214.64 L348.67,215.05 L352.86,215.05" fill="none" stroke="#3f30c8" stroke-width="1.25" stroke-linejoin="round" stroke-linecap="butt"/>
<path d="M270.96,158.28 L271.96,158.66 L272.96,159.07 L273.96,159.52 L274.96,159.99 L275.96,160.50 L276.96,161.02 L277.96,161.57 L278.96,162.14 L279.96,162.76 L280.96,163.44 L281.96,164.15 L282.96,164.89 L283.96,165.63 L284.96,166.37 L285.96,167.08 L286.96,167.77 L287.96,168.44 L288.96,169.11 L289.96,169.79 L290.96,170.49 L291.96,171.21 L292.96,171.96 L293.96,172.76 L294.96,173.60 L295.96,174.47 L296.96,175.37 L297.96,176.30 L298.96,177.24 L299.96,178.20 L300.96,179.17 L301.96,180.16 L302.96,181.19 L303.96,182.24 L304.96,183.30 L305.96,184.36 L306.96,185.42 L307.96,186.48 L308.96,187.53 L309.96,188.58 L310.96,189.64 L311.96,190.69 L312.96,191.76 L313.96,192.82 L314.96,193.90 L315.96,194.99 L316.96,196.09 L317.96,197.21 L318.96,198.33 L319.96,199.44 L320.96,200.54 L321.96,201.62 L322.96,202.67 L323.96,203.75 L324.96,204.84 L325.96,205.91 L326.96,206.94 L327.96,207.91 L328.96,208.79 L329.96,209.57 L330.96,210.31 L331.96,211.03 L332.96,211.71 L333.96,212.33 L334.96,212.89 L335.96,213.36 L336.96,213.74 L337.96,214.05 L338.96,214.35 L339.96,214.61 L340.96,214.82 L341.96,214.97 L342.83,215.05 L352.86,215.05" fill="none" stroke="#111" stroke-width="1.25" stroke-linejoin="round" stroke-linecap="butt"/>
<path d="M267.66,136.82 L267.66,216.55 L357.16,216.55" fill="none" stroke="#000" stroke-width="1.2" stroke-linecap="square"/>
<path d="M262.26,215.05H267.66M262.26,176.70H267.66M262.26,138.35H267.66M282.16,216.55V222.25M318.36,216.55V222.25M354.56,216.55V222.25" stroke="#000" stroke-width="1.2" fill="none"/>
<path d="M267.75,216.55V219.55M271.26,216.55V219.55M274.13,216.55V219.55M276.55,216.55V219.55M278.65,216.55V219.55M280.50,216.55V219.55M293.06,216.55V219.55M299.43,216.55V219.55M303.95,216.55V219.55M307.46,216.55V219.55M310.33,216.55V219.55M312.75,216.55V219.55M314.85,216.55V219.55M316.70,216.55V219.55M329.26,216.55V219.55M335.63,216.55V219.55M340.15,216.55V219.55M343.66,216.55V219.55M346.53,216.55V219.55M348.95,216.55V219.55M351.05,216.55V219.55M352.90,216.55V219.55" stroke="#000" stroke-width="0.9" fill="none"/>
<rect x="378.14" y="138.35" width="69.50" height="76.70" fill="#eff0f0"/>
<path d="M378.14,157.26 L379.14,157.53 L380.14,157.87 L381.14,158.25 L382.14,158.69 L383.14,159.16 L384.14,159.67 L385.14,160.21 L386.14,160.79 L387.14,161.47 L388.14,162.24 L389.14,163.08 L390.14,163.95 L391.14,164.82 L392.14,165.68 L393.14,166.50 L394.14,167.28 L395.14,168.06 L396.14,168.83 L397.14,169.61 L398.14,170.41 L399.14,171.23 L400.14,172.10 L401.14,173.00 L402.14,173.94 L403.14,174.91 L404.14,175.91 L405.14,176.93 L406.14,177.98 L407.14,179.06 L408.14,180.16 L409.14,181.32 L410.14,182.53 L411.14,183.77 L412.14,185.01 L413.14,186.24 L414.14,187.44 L415.14,188.60 L416.14,189.73 L417.14,190.83 L418.14,191.93 L419.14,193.02 L420.14,194.10 L421.14,195.19 L422.14,196.28 L423.14,197.41 L424.14,198.55 L425.14,199.71 L426.14,200.86 L427.14,201.97 L428.14,203.03 L429.14,204.02 L430.14,204.95 L431.14,205.85 L432.14,206.71 L433.14,207.54 L434.14,208.33 L435.14,209.07 L436.14,209.75 L437.14,210.37 L438.14,210.96 L439.14,211.52 L440.14,212.05 L441.14,212.55 L442.14,213.01 L443.14,213.43 L444.14,213.81 L445.14,214.15 L446.14,214.47 L447.14,214.75 L448.14,215.00 L448.37,215.05 L460.04,215.05" fill="none" stroke="#3f30c8" stroke-width="1.25" stroke-linejoin="round" stroke-linecap="butt"/>
<path d="M378.14,162.66 L379.14,162.97 L380.14,163.36 L381.14,163.80 L382.14,164.29 L383.14,164.83 L384.14,165.41 L385.14,166.02 L386.14,166.67 L387.14,167.46 L388.14,168.35 L389.14,169.31 L390.14,170.30 L391.14,171.29 L392.14,172.22 L393.14,173.07 L394.14,173.85 L395.14,174.59 L396.14,175.31 L397.14,176.03 L398.14,176.76 L399.14,177.54 L400.14,178.37 L401.14,179.28 L402.14,180.25 L403.14,181.26 L404.14,182.32 L405.14,183.40 L406.14,184.50 L407.14,185.62 L408.14,186.74 L409.14,187.90 L410.14,189.09 L411.14,190.31 L412.14,191.53 L413.14,192.76 L414.14,193.98 L415.14,195.19 L416.14,196.41 L417.14,197.64 L418.14,198.88 L419.14,200.10 L420.14,201.30 L421.14,202.47 L422.14,203.58 L423.14,204.68 L424.14,205.78 L425.14,206.87 L426.14,207.92 L427.14,208.91 L428.14,209.82 L429.14,210.64 L430.14,211.37 L431.14,212.06 L432.14,212.72 L433.14,213.33 L434.14,213.89 L435.14,214.40 L436.14,214.84 L436.69,215.05 L437.69,215.05 L438.69,215.05 L439.69,215.05 L440.69,215.05 L441.69,215.05 L442.69,215.05 L443.69,215.05 L444.69,215.05 L445.69,215.05 L446.69,215.05 L447.69,215.05 L448.69,215.05 L449.69,215.05 L450.69,215.05 L451.69,215.05 L452.69,215.05 L453.69,215.05 L454.69,215.05 L455.69,215.05 L456.69,215.05 L457.69,215.05 L458.69,215.05 L459.69,215.05 L460.04,215.05" fill="none" stroke="#111" stroke-width="1.25" stroke-linejoin="round" stroke-linecap="butt"/>
<path d="M374.84,136.82 L374.84,216.55 L464.34,216.55" fill="none" stroke="#000" stroke-width="1.2" stroke-linecap="square"/>
<path d="M369.44,215.05H374.84M369.44,176.70H374.84M369.44,138.35H374.84M389.34,216.55V222.25M425.54,216.55V222.25M461.74,216.55V222.25" stroke="#000" stroke-width="1.2" fill="none"/>
<path d="M374.93,216.55V219.55M378.44,216.55V219.55M381.31,216.55V219.55M383.73,216.55V219.55M385.83,216.55V219.55M387.68,216.55V219.55M400.24,216.55V219.55M406.61,216.55V219.55M411.13,216.55V219.55M414.64,216.55V219.55M417.51,216.55V219.55M419.93,216.55V219.55M422.03,216.55V219.55M423.88,216.55V219.55M436.44,216.55V219.55M442.81,216.55V219.55M447.33,216.55V219.55M450.84,216.55V219.55M453.71,216.55V219.55M456.13,216.55V219.55M458.23,216.55V219.55M460.08,216.55V219.55" stroke="#000" stroke-width="0.9" fill="none"/>
<rect x="485.32" y="138.35" width="13.85" height="76.70" fill="#eff0f0"/>
<rect x="503.11" y="138.35" width="39.85" height="76.70" fill="#eff0f0"/>
<path d="M485.32,166.01 L486.32,166.56 L487.32,167.16 L488.32,167.82 L489.32,168.52 L490.32,169.27 L491.32,170.06 L492.32,170.89 L493.32,171.78 L494.32,172.79 L495.32,173.90 L496.32,175.05 L497.32,176.22 L498.32,177.36 L499.32,178.43 L500.32,179.40 L501.32,180.30 L502.32,181.14 L503.32,181.95 L504.32,182.77 L505.32,183.60 L506.32,184.47 L507.32,185.40 L508.32,186.41 L509.32,187.48 L510.32,188.58 L511.32,189.71 L512.32,190.86 L513.32,192.00 L514.32,193.12 L515.32,194.23 L516.32,195.36 L517.32,196.49 L518.32,197.62 L519.32,198.74 L520.32,199.82 L521.32,200.87 L522.32,201.86 L523.32,202.85 L524.32,203.82 L525.32,204.76 L526.32,205.67 L527.32,206.53 L528.32,207.33 L529.32,208.07 L530.32,208.77 L531.32,209.44 L532.32,210.08 L533.32,210.68 L534.32,211.24 L535.32,211.77 L536.32,212.26 L537.32,212.71 L538.32,213.15 L539.32,213.57 L540.32,213.96 L541.32,214.32 L542.32,214.65 L543.32,214.95 L543.69,215.05 L567.22,215.05" fill="none" stroke="#3f30c8" stroke-width="1.25" stroke-linejoin="round" stroke-linecap="butt"/>
<path d="M485.32,171.12 L486.32,171.69 L487.32,172.32 L488.32,173.01 L489.32,173.76 L490.32,174.56 L491.32,175.40 L492.32,176.28 L493.32,177.22 L494.32,178.32 L495.32,179.51 L496.32,180.72 L497.32,181.90 L498.32,182.98 L499.32,183.93 L500.32,184.80 L501.32,185.63 L502.32,186.46 L503.32,187.32 L504.32,188.25 L505.32,189.25 L506.32,190.29 L507.32,191.38 L508.32,192.50 L509.32,193.64 L510.32,194.79 L511.32,195.94 L512.32,197.10 L513.32,198.31 L514.32,199.54 L515.32,200.78 L516.32,202.01 L517.32,203.22 L518.32,204.38 L519.32,205.48 L520.32,206.61 L521.32,207.73 L522.32,208.84 L523.32,209.89 L524.32,210.85 L525.32,211.69 L526.32,212.38 L527.32,212.99 L528.32,213.56 L529.32,214.07 L530.32,214.51 L531.32,214.86 L532.01,215.05 L567.22,215.05" fill="none" stroke="#111" stroke-width="1.25" stroke-linejoin="round" stroke-linecap="butt"/>
<path d="M482.02,136.82 L482.02,216.55 L571.52,216.55" fill="none" stroke="#000" stroke-width="1.2" stroke-linecap="square"/>
<path d="M476.62,215.05H482.02M476.62,176.70H482.02M476.62,138.35H482.02M496.52,216.55V222.25M532.72,216.55V222.25M568.92,216.55V222.25" stroke="#000" stroke-width="1.2" fill="none"/>
<path d="M482.11,216.55V219.55M485.62,216.55V219.55M488.49,216.55V219.55M490.91,216.55V219.55M493.01,216.55V219.55M494.86,216.55V219.55M507.42,216.55V219.55M513.79,216.55V219.55M518.31,216.55V219.55M521.82,216.55V219.55M524.69,216.55V219.55M527.11,216.55V219.55M529.21,216.55V219.55M531.06,216.55V219.55M543.62,216.55V219.55M549.99,216.55V219.55M554.51,216.55V219.55M558.02,216.55V219.55M560.89,216.55V219.55M563.31,216.55V219.55M565.41,216.55V219.55M567.26,216.55V219.55" stroke="#000" stroke-width="0.9" fill="none"/>
<rect x="592.50" y="138.35" width="40.97" height="76.70" fill="#eff0f0"/>
<path d="M592.50,176.23 L593.50,177.10 L594.50,178.01 L595.50,178.94 L596.50,179.91 L597.50,180.91 L598.50,181.94 L599.50,182.99 L600.50,184.10 L601.50,185.30 L602.50,186.56 L603.50,187.83 L604.50,189.09 L605.50,190.31 L606.50,191.43 L607.50,192.46 L608.50,193.41 L609.50,194.31 L610.50,195.17 L611.50,196.03 L612.50,196.89 L613.50,197.78 L614.50,198.71 L615.50,199.70 L616.50,200.72 L617.50,201.77 L618.50,202.80 L619.50,203.82 L620.50,204.80 L621.50,205.73 L622.50,206.61 L623.50,207.47 L624.50,208.31 L625.50,209.12 L626.50,209.90 L627.50,210.65 L628.50,211.36 L629.50,212.03 L630.50,212.68 L631.50,213.30 L632.50,213.89 L633.50,214.45 L634.50,214.98 L634.64,215.05 L674.40,215.05" fill="none" stroke="#3f30c8" stroke-width="1.25" stroke-linejoin="round" stroke-linecap="butt"/>
<path d="M592.50,181.34 L593.50,182.42 L594.50,183.49 L595.50,184.58 L596.50,185.67 L597.50,186.77 L598.50,187.88 L599.50,189.02 L600.50,190.19 L601.50,191.36 L602.50,192.49 L603.50,193.56 L604.50,194.54 L605.50,195.43 L606.50,196.27 L607.50,197.09 L608.50,197.94 L609.50,198.85 L610.50,199.85 L611.50,200.95 L612.50,202.10 L613.50,203.28 L614.50,204.44 L615.50,205.56 L616.50,206.61 L617.50,207.66 L618.50,208.69 L619.50,209.69 L620.50,210.65 L621.50,211.57 L622.50,212.43 L623.50,213.25 L624.50,214.04 L625.50,214.78 L625.88,215.05 L674.40,215.05" fill="none" stroke="#111" stroke-width="1.25" stroke-linejoin="round" stroke-linecap="butt"/>
<path d="M589.20,136.82 L589.20,216.55 L678.70,216.55" fill="none" stroke="#000" stroke-width="1.2" stroke-linecap="square"/>
<path d="M583.80,215.05H589.20M583.80,176.70H589.20M583.80,138.35H589.20M603.70,216.55V222.25M639.90,216.55V222.25M676.10,216.55V222.25" stroke="#000" stroke-width="1.2" fill="none"/>
<path d="M589.29,216.55V219.55M592.80,216.55V219.55M595.67,216.55V219.55M598.09,216.55V219.55M600.19,216.55V219.55M602.04,216.55V219.55M614.60,216.55V219.55M620.97,216.55V219.55M625.49,216.55V219.55M629.00,216.55V219.55M631.87,216.55V219.55M634.29,216.55V219.55M636.39,216.55V219.55M638.24,216.55V219.55M650.80,216.55V219.55M657.17,216.55V219.55M661.69,216.55V219.55M665.20,216.55V219.55M668.07,216.55V219.55M670.49,216.55V219.55M672.59,216.55V219.55M674.44,216.55V219.55" stroke="#000" stroke-width="0.9" fill="none"/>
<text transform="translate(8.0,176.10) rotate(-90)" font-size="9.4" text-anchor="middle" fill="#1a1a1a" stroke="#1a1a1a" stroke-width="0.12">Relative economic value</text>
<text transform="translate(19.1,177.20) rotate(-90)" font-size="9.4" text-anchor="middle" fill="#1a1a1a" stroke="#1a1a1a" stroke-width="0.12">0.1% extremes</text>
<rect x="56.60" y="233.90" width="81.90" height="76.70" fill="#eff0f0"/>
<path d="M56.60,245.08 L57.60,245.20 L58.60,245.37 L59.60,245.57 L60.60,245.81 L61.60,246.07 L62.60,246.36 L63.60,246.66 L64.60,246.98 L65.60,247.35 L66.60,247.79 L67.60,248.30 L68.60,248.83 L69.60,249.39 L70.60,249.95 L71.60,250.48 L72.60,250.97 L73.60,251.45 L74.60,251.93 L75.60,252.40 L76.60,252.89 L77.60,253.40 L78.60,253.94 L79.60,254.52 L80.60,255.14 L81.60,255.80 L82.60,256.49 L83.60,257.20 L84.60,257.94 L85.60,258.70 L86.60,259.47 L87.60,260.26 L88.60,261.09 L89.60,261.94 L90.60,262.81 L91.60,263.69 L92.60,264.59 L93.60,265.49 L94.60,266.39 L95.60,267.29 L96.60,268.21 L97.60,269.13 L98.60,270.08 L99.60,271.04 L100.60,272.03 L101.60,273.04 L102.60,274.09 L103.60,275.16 L104.60,276.26 L105.60,277.37 L106.60,278.50 L107.60,279.64 L108.60,280.79 L109.60,281.95 L110.60,283.12 L111.60,284.31 L112.60,285.51 L113.60,286.73 L114.60,287.96 L115.60,289.20 L116.60,290.47 L117.60,291.80 L118.60,293.16 L119.60,294.51 L120.60,295.85 L121.60,297.14 L122.60,298.35 L123.60,299.49 L124.60,300.60 L125.60,301.68 L126.60,302.72 L127.60,303.72 L128.60,304.66 L129.60,305.54 L130.60,306.34 L131.60,307.10 L132.60,307.79 L133.60,308.43 L134.60,308.99 L135.60,309.48 L136.60,309.92 L137.60,310.31 L138.50,310.60" fill="none" stroke="#3f30c8" stroke-width="1.25" stroke-linejoin="round" stroke-linecap="butt"/>
<path d="M56.60,260.41 L57.60,260.62 L58.60,260.87 L59.60,261.16 L60.60,261.48 L61.60,261.84 L62.60,262.22 L63.60,262.62 L64.60,263.04 L65.60,263.50 L66.60,264.04 L67.60,264.62 L68.60,265.25 L69.60,265.90 L70.60,266.56 L71.60,267.22 L72.60,267.87 L73.60,268.54 L74.60,269.22 L75.60,269.92 L76.60,270.63 L77.60,271.35 L78.60,272.08 L79.60,272.83 L80.60,273.59 L81.60,274.37 L82.60,275.16 L83.60,275.96 L84.60,276.78 L85.60,277.61 L86.60,278.45 L87.60,279.32 L88.60,280.20 L89.60,281.10 L90.60,282.02 L91.60,282.93 L92.60,283.85 L93.60,284.76 L94.60,285.66 L95.60,286.56 L96.60,287.46 L97.60,288.36 L98.60,289.26 L99.60,290.16 L100.60,291.06 L101.60,291.96 L102.60,292.85 L103.60,293.73 L104.60,294.62 L105.60,295.51 L106.60,296.41 L107.60,297.33 L108.60,298.27 L109.60,299.24 L110.60,300.25 L111.60,301.27 L112.60,302.30 L113.60,303.32 L114.60,304.32 L115.60,305.28 L116.60,306.22 L117.60,307.14 L118.60,308.04 L119.60,308.93 L120.60,309.80 L121.53,310.60 L138.50,310.60" fill="none" stroke="#111" stroke-width="1.25" stroke-linejoin="round" stroke-linecap="butt"/>
<path d="M53.30,232.37 L53.30,312.10 L142.80,312.10" fill="none" stroke="#000" stroke-width="1.2" stroke-linecap="square"/>
<path d="M47.90,310.60H53.30M47.90,272.25H53.30M47.90,233.90H53.30M67.80,312.10V317.80M104.00,312.10V317.80M140.20,312.10V317.80" stroke="#000" stroke-width="1.2" fill="none"/>
<path d="M53.39,312.10V315.10M56.90,312.10V315.10M59.77,312.10V315.10M62.19,312.10V315.10M64.29,312.10V315.10M66.14,312.10V315.10M78.70,312.10V315.10M85.07,312.10V315.10M89.59,312.10V315.10M93.10,312.10V315.10M95.97,312.10V315.10M98.39,312.10V315.10M100.49,312.10V315.10M102.34,312.10V315.10M114.90,312.10V315.10M121.27,312.10V315.10M125.79,312.10V315.10M129.30,312.10V315.10M132.17,312.10V315.10M134.59,312.10V315.10M136.69,312.10V315.10M138.54,312.10V315.10" stroke="#000" stroke-width="0.9" fill="none"/>
<text x="42.4" y="315.00" font-size="9.4" text-anchor="end" fill="#1a1a1a" stroke="#1a1a1a" stroke-width="0.12">0.0</text>
<text x="42.4" y="276.65" font-size="9.4" text-anchor="end" fill="#1a1a1a" stroke="#1a1a1a" stroke-width="0.12">0.5</text>
<text x="42.4" y="238.30" font-size="9.4" text-anchor="end" fill="#1a1a1a" stroke="#1a1a1a" stroke-width="0.12">1.0</text>
<text x="56.62" y="330.60" font-size="9.4" fill="#1a1a1a" stroke="#1a1a1a" stroke-width="0.12">10<tspan font-size="6.58" dy="-3.4" dx="0.7">−2</tspan></text>
<text x="92.82" y="330.60" font-size="9.4" fill="#1a1a1a" stroke="#1a1a1a" stroke-width="0.12">10<tspan font-size="6.58" dy="-3.4" dx="0.7">−1</tspan></text>
<text x="132.08" y="330.60" font-size="9.4" fill="#1a1a1a" stroke="#1a1a1a" stroke-width="0.12">10<tspan font-size="6.58" dy="-3.4" dx="0.1">0</tspan></text>
<text x="98.05" y="345.50" font-size="9.4" text-anchor="middle" fill="#1a1a1a" stroke="#1a1a1a" stroke-width="0.12">Cost/loss ratio</text>
<rect x="163.78" y="233.90" width="69.13" height="76.70" fill="#eff0f0"/>
<path d="M163.78,254.57 L164.78,254.93 L165.78,255.35 L166.78,255.82 L167.78,256.33 L168.78,256.89 L169.78,257.49 L170.78,258.12 L171.78,258.78 L172.78,259.54 L173.78,260.42 L174.78,261.37 L175.78,262.35 L176.78,263.34 L177.78,264.28 L178.78,265.13 L179.78,265.89 L180.78,266.59 L181.78,267.25 L182.78,267.90 L183.78,268.56 L184.78,269.25 L185.78,270.00 L186.78,270.83 L187.78,271.73 L188.78,272.70 L189.78,273.71 L190.78,274.76 L191.78,275.82 L192.78,276.88 L193.78,277.93 L194.78,279.00 L195.78,280.09 L196.78,281.19 L197.78,282.31 L198.78,283.43 L199.78,284.54 L200.78,285.65 L201.78,286.75 L202.78,287.87 L203.78,288.98 L204.78,290.10 L205.78,291.20 L206.78,292.29 L207.78,293.36 L208.78,294.41 L209.78,295.46 L210.78,296.50 L211.78,297.52 L212.78,298.53 L213.78,299.50 L214.78,300.44 L215.78,301.34 L216.78,302.22 L217.78,303.09 L218.78,303.93 L219.78,304.74 L220.78,305.51 L221.78,306.23 L222.78,306.89 L223.78,307.50 L224.78,308.09 L225.78,308.65 L226.78,309.17 L227.78,309.66 L228.78,310.11 L229.78,310.52 L229.99,310.60 L230.99,310.60 L231.99,310.60 L232.99,310.60 L233.99,310.60 L234.99,310.60 L235.99,310.60 L236.99,310.60 L237.99,310.60 L238.99,310.60 L239.99,310.60 L240.99,310.60 L241.99,310.60 L242.99,310.60 L243.99,310.60 L244.99,310.60 L245.68,310.60" fill="none" stroke="#3f30c8" stroke-width="1.25" stroke-linejoin="round" stroke-linecap="butt"/>
<path d="M163.78,267.12 L164.78,267.63 L165.78,268.17 L166.78,268.74 L167.78,269.33 L168.78,269.94 L169.78,270.58 L170.78,271.24 L171.78,271.92 L172.78,272.65 L173.78,273.42 L174.78,274.22 L175.78,275.05 L176.78,275.89 L177.78,276.72 L178.78,277.54 L179.78,278.34 L180.78,279.12 L181.78,279.91 L182.78,280.70 L183.78,281.49 L184.78,282.30 L185.78,283.12 L186.78,283.97 L187.78,284.85 L188.78,285.74 L189.78,286.65 L190.78,287.57 L191.78,288.48 L192.78,289.40 L193.78,290.30 L194.78,291.21 L195.78,292.13 L196.78,293.04 L197.78,293.95 L198.78,294.85 L199.78,295.74 L200.78,296.60 L201.78,297.44 L202.78,298.27 L203.78,299.09 L204.78,299.89 L205.78,300.68 L206.78,301.46 L207.78,302.22 L208.78,302.96 L209.78,303.71 L210.78,304.45 L211.78,305.17 L212.78,305.87 L213.78,306.55 L214.78,307.19 L215.78,307.79 L216.78,308.36 L217.78,308.91 L218.78,309.43 L219.78,309.93 L220.78,310.40 L221.23,310.60 L245.68,310.60" fill="none" stroke="#111" stroke-width="1.25" stroke-linejoin="round" stroke-linecap="butt"/>
<path d="M160.48,232.37 L160.48,312.10 L249.98,312.10" fill="none" stroke="#000" stroke-width="1.2" stroke-linecap="square"/>
<path d="M155.08,310.60H160.48M155.08,272.25H160.48M155.08,233.90H160.48M174.98,312.10V317.80M211.18,312.10V317.80M247.38,312.10V317.80" stroke="#000" stroke-width="1.2" fill="none"/>
<path d="M160.57,312.10V315.10M164.08,312.10V315.10M166.95,312.10V315.10M169.37,312.10V315.10M171.47,312.10V315.10M173.32,312.10V315.10M185.88,312.10V315.10M192.25,312.10V315.10M196.77,312.10V315.10M200.28,312.10V315.10M203.15,312.10V315.10M205.57,312.10V315.10M207.67,312.10V315.10M209.52,312.10V315.10M222.08,312.10V315.10M228.45,312.10V315.10M232.97,312.10V315.10M236.48,312.10V315.10M239.35,312.10V315.10M241.77,312.10V315.10M243.87,312.10V315.10M245.72,312.10V315.10" stroke="#000" stroke-width="0.9" fill="none"/>
<text x="163.80" y="330.60" font-size="9.4" fill="#1a1a1a" stroke="#1a1a1a" stroke-width="0.12">10<tspan font-size="6.58" dy="-3.4" dx="0.7">−2</tspan></text>
<text x="200.00" y="330.60" font-size="9.4" fill="#1a1a1a" stroke="#1a1a1a" stroke-width="0.12">10<tspan font-size="6.58" dy="-3.4" dx="0.7">−1</tspan></text>
<text x="239.26" y="330.60" font-size="9.4" fill="#1a1a1a" stroke="#1a1a1a" stroke-width="0.12">10<tspan font-size="6.58" dy="-3.4" dx="0.1">0</tspan></text>
<text x="205.23" y="345.50" font-size="9.4" text-anchor="middle" fill="#1a1a1a" stroke="#1a1a1a" stroke-width="0.12">Cost/loss ratio</text>
<rect x="270.96" y="233.90" width="59.03" height="76.70" fill="#eff0f0"/>
<path d="M270.96,262.31 L271.96,262.99 L272.96,263.71 L273.96,264.44 L274.96,265.21 L275.96,265.99 L276.96,266.79 L277.96,267.61 L278.96,268.46 L279.96,269.37 L280.96,270.33 L281.96,271.31 L282.96,272.26 L283.96,273.15 L284.96,273.95 L285.96,274.66 L286.96,275.32 L287.96,275.97 L288.96,276.64 L289.96,277.38 L290.96,278.21 L291.96,279.12 L292.96,280.09 L293.96,281.11 L294.96,282.16 L295.96,283.22 L296.96,284.28 L297.96,285.34 L298.96,286.42 L299.96,287.53 L300.96,288.65 L301.96,289.77 L302.96,290.89 L303.96,291.99 L304.96,293.05 L305.96,294.09 L306.96,295.12 L307.96,296.14 L308.96,297.14 L309.96,298.13 L310.96,299.10 L311.96,300.06 L312.96,301.01 L313.96,301.97 L314.96,302.92 L315.96,303.86 L316.96,304.76 L317.96,305.63 L318.96,306.44 L319.96,307.19 L320.96,307.91 L321.96,308.59 L322.96,309.23 L323.96,309.84 L324.96,310.41 L325.31,310.60 L326.31,310.60 L327.31,310.60 L328.31,310.60 L329.31,310.60 L330.31,310.60 L331.31,310.60 L332.31,310.60 L333.31,310.60 L334.31,310.60 L335.31,310.60 L336.31,310.60 L337.31,310.60 L338.31,310.60 L339.31,310.60 L340.31,310.60 L341.31,310.60 L342.31,310.60 L343.31,310.60 L344.31,310.60 L345.31,310.60 L346.31,310.60 L347.31,310.60 L348.31,310.60 L349.31,310.60 L350.31,310.60 L351.31,310.60 L352.31,310.60 L352.86,310.60" fill="none" stroke="#3f30c8" stroke-width="1.25" stroke-linejoin="round" stroke-linecap="butt"/>
<path d="M270.96,272.09 L271.96,272.96 L272.96,273.82 L273.96,274.67 L274.96,275.50 L275.96,276.31 L276.96,277.10 L277.96,277.88 L278.96,278.63 L279.96,279.35 L280.96,280.03 L281.96,280.70 L282.96,281.37 L283.96,282.05 L284.96,282.76 L285.96,283.52 L286.96,284.34 L287.96,285.19 L288.96,286.08 L289.96,286.99 L290.96,287.93 L291.96,288.87 L292.96,289.82 L293.96,290.78 L294.96,291.77 L295.96,292.78 L296.96,293.81 L297.96,294.83 L298.96,295.84 L299.96,296.83 L300.96,297.78 L301.96,298.72 L302.96,299.66 L303.96,300.58 L304.96,301.48 L305.96,302.36 L306.96,303.22 L307.96,304.05 L308.96,304.86 L309.96,305.66 L310.96,306.44 L311.96,307.17 L312.96,307.86 L313.96,308.49 L314.96,309.07 L315.96,309.62 L316.96,310.12 L317.96,310.58 L318.01,310.60 L352.86,310.60" fill="none" stroke="#111" stroke-width="1.25" stroke-linejoin="round" stroke-linecap="butt"/>
<path d="M267.66,232.37 L267.66,312.10 L357.16,312.10" fill="none" stroke="#000" stroke-width="1.2" stroke-linecap="square"/>
<path d="M262.26,310.60H267.66M262.26,272.25H267.66M262.26,233.90H267.66M282.16,312.10V317.80M318.36,312.10V317.80M354.56,312.10V317.80" stroke="#000" stroke-width="1.2" fill="none"/>
<path d="M267.75,312.10V315.10M271.26,312.10V315.10M274.13,312.10V315.10M276.55,312.10V315.10M278.65,312.10V315.10M280.50,312.10V315.10M293.06,312.10V315.10M299.43,312.10V315.10M303.95,312.10V315.10M307.46,312.10V315.10M310.33,312.10V315.10M312.75,312.10V315.10M314.85,312.10V315.10M316.70,312.10V315.10M329.26,312.10V315.10M335.63,312.10V315.10M340.15,312.10V315.10M343.66,312.10V315.10M346.53,312.10V315.10M348.95,312.10V315.10M351.05,312.10V315.10M352.90,312.10V315.10" stroke="#000" stroke-width="0.9" fill="none"/>
<text x="270.98" y="330.60" font-size="9.4" fill="#1a1a1a" stroke="#1a1a1a" stroke-width="0.12">10<tspan font-size="6.58" dy="-3.4" dx="0.7">−2</tspan></text>
<text x="307.18" y="330.60" font-size="9.4" fill="#1a1a1a" stroke="#1a1a1a" stroke-width="0.12">10<tspan font-size="6.58" dy="-3.4" dx="0.7">−1</tspan></text>
<text x="346.44" y="330.60" font-size="9.4" fill="#1a1a1a" stroke="#1a1a1a" stroke-width="0.12">10<tspan font-size="6.58" dy="-3.4" dx="0.1">0</tspan></text>
<text x="312.41" y="345.50" font-size="9.4" text-anchor="middle" fill="#1a1a1a" stroke="#1a1a1a" stroke-width="0.12">Cost/loss ratio</text>
<rect x="378.14" y="233.90" width="22.06" height="76.70" fill="#eff0f0"/>
<rect x="415.96" y="233.90" width="9.78" height="76.70" fill="#eff0f0"/>
<path d="M378.14,271.80 L379.14,272.47 L380.14,273.23 L381.14,274.06 L382.14,274.96 L383.14,275.91 L384.14,276.91 L385.14,278.06 L386.14,279.39 L387.14,280.73 L388.14,281.93 L389.14,282.86 L390.14,283.66 L391.14,284.37 L392.14,285.05 L393.14,285.74 L394.14,286.51 L395.14,287.37 L396.14,288.29 L397.14,289.26 L398.14,290.25 L399.14,291.23 L400.14,292.18 L401.14,293.11 L402.14,294.03 L403.14,294.95 L404.14,295.86 L405.14,296.75 L406.14,297.63 L407.14,298.50 L408.14,299.35 L409.14,300.21 L410.14,301.06 L411.14,301.90 L412.14,302.71 L413.14,303.49 L414.14,304.20 L415.14,304.86 L416.14,305.50 L417.14,306.11 L418.14,306.70 L419.14,307.25 L420.14,307.75 L421.14,308.21 L422.14,308.60 L423.14,308.96 L424.14,309.30 L425.14,309.61 L426.14,309.90 L427.14,310.16 L428.14,310.38 L429.14,310.56 L429.39,310.60 L460.04,310.60" fill="none" stroke="#3f30c8" stroke-width="1.25" stroke-linejoin="round" stroke-linecap="butt"/>
<path d="M378.14,281.28 L379.14,282.41 L380.14,283.48 L381.14,284.50 L382.14,285.45 L383.14,286.32 L384.14,287.13 L385.14,287.83 L386.14,288.45 L387.14,289.03 L388.14,289.60 L389.14,290.21 L390.14,290.89 L391.14,291.64 L392.14,292.44 L393.14,293.27 L394.14,294.13 L395.14,295.00 L396.14,295.88 L397.14,296.79 L398.14,297.74 L399.14,298.70 L400.14,299.65 L401.14,300.55 L402.14,301.39 L403.14,302.20 L404.14,302.98 L405.14,303.74 L406.14,304.49 L407.14,305.22 L408.14,305.95 L409.14,306.67 L410.14,307.39 L411.14,308.10 L412.14,308.80 L413.14,309.48 L414.14,310.16 L414.80,310.60 L415.80,310.60 L416.80,310.60 L417.80,310.60 L418.80,310.60 L419.80,310.60 L420.80,310.60 L421.80,310.60 L422.80,310.60 L423.80,310.60 L424.80,310.60 L425.80,310.60 L426.80,310.60 L427.80,310.60 L428.80,310.60 L429.80,310.60 L430.80,310.60 L431.80,310.60 L432.80,310.60 L433.80,310.60 L434.80,310.60 L435.80,310.60 L436.80,310.60 L437.80,310.60 L438.80,310.60 L439.80,310.60 L440.80,310.60 L441.80,310.60 L442.80,310.60 L443.80,310.60 L444.80,310.60 L445.80,310.60 L446.80,310.60 L447.80,310.60 L448.80,310.60 L449.80,310.60 L450.80,310.60 L451.80,310.60 L452.80,310.60 L453.80,310.60 L454.80,310.60 L455.80,310.60 L456.80,310.60 L457.80,310.60 L458.80,310.60 L459.80,310.60 L460.04,310.60" fill="none" stroke="#111" stroke-width="1.25" stroke-linejoin="round" stroke-linecap="butt"/>
<path d="M374.84,232.37 L374.84,312.10 L464.34,312.10" fill="none" stroke="#000" stroke-width="1.2" stroke-linecap="square"/>
<path d="M369.44,310.60H374.84M369.44,272.25H374.84M369.44,233.90H374.84M389.34,312.10V317.80M425.54,312.10V317.80M461.74,312.10V317.80" stroke="#000" stroke-width="1.2" fill="none"/>
<path d="M374.93,312.10V315.10M378.44,312.10V315.10M381.31,312.10V315.10M383.73,312.10V315.10M385.83,312.10V315.10M387.68,312.10V315.10M400.24,312.10V315.10M406.61,312.10V315.10M411.13,312.10V315.10M414.64,312.10V315.10M417.51,312.10V315.10M419.93,312.10V315.10M422.03,312.10V315.10M423.88,312.10V315.10M436.44,312.10V315.10M442.81,312.10V315.10M447.33,312.10V315.10M450.84,312.10V315.10M453.71,312.10V315.10M456.13,312.10V315.10M458.23,312.10V315.10M460.08,312.10V315.10" stroke="#000" stroke-width="0.9" fill="none"/>
<text x="378.16" y="330.60" font-size="9.4" fill="#1a1a1a" stroke="#1a1a1a" stroke-width="0.12">10<tspan font-size="6.58" dy="-3.4" dx="0.7">−2</tspan></text>
<text x="414.36" y="330.60" font-size="9.4" fill="#1a1a1a" stroke="#1a1a1a" stroke-width="0.12">10<tspan font-size="6.58" dy="-3.4" dx="0.7">−1</tspan></text>
<text x="453.62" y="330.60" font-size="9.4" fill="#1a1a1a" stroke="#1a1a1a" stroke-width="0.12">10<tspan font-size="6.58" dy="-3.4" dx="0.1">0</tspan></text>
<text x="419.59" y="345.50" font-size="9.4" text-anchor="middle" fill="#1a1a1a" stroke="#1a1a1a" stroke-width="0.12">Cost/loss ratio</text>
<rect x="495.96" y="233.90" width="1.75" height="76.70" fill="#eff0f0"/>
<rect x="501.07" y="233.90" width="16.64" height="76.70" fill="#eff0f0"/>
<path d="M485.32,287.12 L486.32,288.11 L487.32,289.06 L488.32,289.96 L489.32,290.81 L490.32,291.62 L491.32,292.36 L492.32,293.03 L493.32,293.63 L494.32,294.21 L495.32,294.79 L496.32,295.42 L497.32,296.14 L498.32,296.96 L499.32,297.85 L500.32,298.77 L501.32,299.70 L502.32,300.58 L503.32,301.40 L504.32,302.20 L505.32,302.99 L506.32,303.75 L507.32,304.47 L508.32,305.16 L509.32,305.79 L510.32,306.40 L511.32,306.99 L512.32,307.54 L513.32,308.05 L514.32,308.51 L515.32,308.93 L516.32,309.32 L517.32,309.69 L518.32,310.03 L519.32,310.33 L520.32,310.60 L520.34,310.60 L567.22,310.60" fill="none" stroke="#3f30c8" stroke-width="1.25" stroke-linejoin="round" stroke-linecap="butt"/>
<path d="M485.32,294.13 L486.32,294.69 L487.32,295.28 L488.32,295.90 L489.32,296.54 L490.32,297.21 L491.32,297.91 L492.32,298.66 L493.32,299.46 L494.32,300.28 L495.32,301.12 L496.32,301.93 L497.32,302.72 L498.32,303.47 L499.32,304.20 L500.32,304.93 L501.32,305.67 L502.32,306.44 L503.32,307.24 L504.32,308.07 L505.32,308.93 L506.32,309.81 L507.20,310.60 L508.20,310.60 L509.20,310.60 L510.20,310.60 L511.20,310.60 L512.20,310.60 L513.20,310.60 L514.20,310.60 L515.20,310.60 L516.20,310.60 L517.20,310.60 L518.20,310.60 L519.20,310.60 L520.20,310.60 L521.20,310.60 L522.20,310.60 L523.20,310.60 L524.20,310.60 L525.20,310.60 L526.20,310.60 L527.20,310.60 L528.20,310.60 L529.20,310.60 L530.20,310.60 L531.20,310.60 L532.20,310.60 L533.20,310.60 L534.20,310.60 L535.20,310.60 L536.20,310.60 L537.20,310.60 L538.20,310.60 L539.20,310.60 L540.20,310.60 L541.20,310.60 L542.20,310.60 L543.20,310.60 L544.20,310.60 L545.20,310.60 L546.20,310.60 L547.20,310.60 L548.20,310.60 L549.20,310.60 L550.20,310.60 L551.20,310.60 L552.20,310.60 L553.20,310.60 L554.20,310.60 L555.20,310.60 L556.20,310.60 L557.20,310.60 L558.20,310.60 L559.20,310.60 L560.20,310.60 L561.20,310.60 L562.20,310.60 L563.20,310.60 L564.20,310.60 L565.20,310.60 L566.20,310.60 L567.20,310.60 L567.22,310.60" fill="none" stroke="#111" stroke-width="1.25" stroke-linejoin="round" stroke-linecap="butt"/>
<path d="M482.02,232.37 L482.02,312.10 L571.52,312.10" fill="none" stroke="#000" stroke-width="1.2" stroke-linecap="square"/>
<path d="M476.62,310.60H482.02M476.62,272.25H482.02M476.62,233.90H482.02M496.52,312.10V317.80M532.72,312.10V317.80M568.92,312.10V317.80" stroke="#000" stroke-width="1.2" fill="none"/>
<path d="M482.11,312.10V315.10M485.62,312.10V315.10M488.49,312.10V315.10M490.91,312.10V315.10M493.01,312.10V315.10M494.86,312.10V315.10M507.42,312.10V315.10M513.79,312.10V315.10M518.31,312.10V315.10M521.82,312.10V315.10M524.69,312.10V315.10M527.11,312.10V315.10M529.21,312.10V315.10M531.06,312.10V315.10M543.62,312.10V315.10M549.99,312.10V315.10M554.51,312.10V315.10M558.02,312.10V315.10M560.89,312.10V315.10M563.31,312.10V315.10M565.41,312.10V315.10M567.26,312.10V315.10" stroke="#000" stroke-width="0.9" fill="none"/>
<text x="485.34" y="330.60" font-size="9.4" fill="#1a1a1a" stroke="#1a1a1a" stroke-width="0.12">10<tspan font-size="6.58" dy="-3.4" dx="0.7">−2</tspan></text>
<text x="521.54" y="330.60" font-size="9.4" fill="#1a1a1a" stroke="#1a1a1a" stroke-width="0.12">10<tspan font-size="6.58" dy="-3.4" dx="0.7">−1</tspan></text>
<text x="560.80" y="330.60" font-size="9.4" fill="#1a1a1a" stroke="#1a1a1a" stroke-width="0.12">10<tspan font-size="6.58" dy="-3.4" dx="0.1">0</tspan></text>
<text x="526.77" y="345.50" font-size="9.4" text-anchor="middle" fill="#1a1a1a" stroke="#1a1a1a" stroke-width="0.12">Cost/loss ratio</text>
<rect x="592.50" y="233.90" width="12.21" height="76.70" fill="#eff0f0"/>
<path d="M592.50,302.45 L593.50,302.99 L594.50,303.53 L595.50,304.10 L596.50,304.68 L597.50,305.28 L598.50,305.89 L599.50,306.58 L600.50,307.30 L601.50,308.00 L602.50,308.63 L603.50,309.14 L604.50,309.57 L605.50,309.96 L606.50,310.30 L607.50,310.57 L607.63,310.60 L674.40,310.60" fill="none" stroke="#3f30c8" stroke-width="1.25" stroke-linejoin="round" stroke-linecap="butt"/>
<path d="M592.50,306.10 L593.50,306.75 L594.50,307.36 L595.50,307.94 L596.50,308.49 L597.50,309.00 L598.50,309.49 L599.50,309.95 L600.50,310.38 L601.06,310.60 L602.06,310.60 L603.06,310.60 L604.06,310.60 L605.06,310.60 L606.06,310.60 L607.06,310.60 L608.06,310.60 L609.06,310.60 L610.06,310.60 L611.06,310.60 L612.06,310.60 L613.06,310.60 L614.06,310.60 L615.06,310.60 L616.06,310.60 L617.06,310.60 L618.06,310.60 L619.06,310.60 L620.06,310.60 L621.06,310.60 L622.06,310.60 L623.06,310.60 L624.06,310.60 L625.06,310.60 L626.06,310.60 L627.06,310.60 L628.06,310.60 L629.06,310.60 L630.06,310.60 L631.06,310.60 L632.06,310.60 L633.06,310.60 L634.06,310.60 L635.06,310.60 L636.06,310.60 L637.06,310.60 L638.06,310.60 L639.06,310.60 L640.06,310.60 L641.06,310.60 L642.06,310.60 L643.06,310.60 L644.06,310.60 L645.06,310.60 L646.06,310.60 L647.06,310.60 L648.06,310.60 L649.06,310.60 L650.06,310.60 L651.06,310.60 L652.06,310.60 L653.06,310.60 L654.06,310.60 L655.06,310.60 L656.06,310.60 L657.06,310.60 L658.06,310.60 L659.06,310.60 L660.06,310.60 L661.06,310.60 L662.06,310.60 L663.06,310.60 L664.06,310.60 L665.06,310.60 L666.06,310.60 L667.06,310.60 L668.06,310.60 L669.06,310.60 L670.06,310.60 L671.06,310.60 L672.06,310.60 L673.06,310.60 L674.06,310.60 L674.40,310.60" fill="none" stroke="#111" stroke-width="1.25" stroke-linejoin="round" stroke-linecap="butt"/>
<path d="M589.20,232.37 L589.20,312.10 L678.70,312.10" fill="none" stroke="#000" stroke-width="1.2" stroke-linecap="square"/>
<path d="M583.80,310.60H589.20M583.80,272.25H589.20M583.80,233.90H589.20M603.70,312.10V317.80M639.90,312.10V317.80M676.10,312.10V317.80" stroke="#000" stroke-width="1.2" fill="none"/>
<path d="M589.29,312.10V315.10M592.80,312.10V315.10M595.67,312.10V315.10M598.09,312.10V315.10M600.19,312.10V315.10M602.04,312.10V315.10M614.60,312.10V315.10M620.97,312.10V315.10M625.49,312.10V315.10M629.00,312.10V315.10M631.87,312.10V315.10M634.29,312.10V315.10M636.39,312.10V315.10M638.24,312.10V315.10M650.80,312.10V315.10M657.17,312.10V315.10M661.69,312.10V315.10M665.20,312.10V315.10M668.07,312.10V315.10M670.49,312.10V315.10M672.59,312.10V315.10M674.44,312.10V315.10" stroke="#000" stroke-width="0.9" fill="none"/>
<text x="592.52" y="330.60" font-size="9.4" fill="#1a1a1a" stroke="#1a1a1a" stroke-width="0.12">10<tspan font-size="6.58" dy="-3.4" dx="0.7">−2</tspan></text>
<text x="628.72" y="330.60" font-size="9.4" fill="#1a1a1a" stroke="#1a1a1a" stroke-width="0.12">10<tspan font-size="6.58" dy="-3.4" dx="0.7">−1</tspan></text>
<text x="667.98" y="330.60" font-size="9.4" fill="#1a1a1a" stroke="#1a1a1a" stroke-width="0.12">10<tspan font-size="6.58" dy="-3.4" dx="0.1">0</tspan></text>
<text x="633.95" y="345.50" font-size="9.4" text-anchor="middle" fill="#1a1a1a" stroke="#1a1a1a" stroke-width="0.12">Cost/loss ratio</text>
<text transform="translate(19.1,273.25) rotate(-90)" font-size="9.4" text-anchor="middle" fill="#1a1a1a" stroke="#1a1a1a" stroke-width="0.12">0.01% extremes</text>
<text x="15.4" y="379.0" font-size="12.74" font-weight="bold">b</text>
<text x="228.6" y="379.1" font-size="10.85" font-weight="bold">Relative economic value for extreme low 2t</text>
<rect x="56.60" y="421.70" width="81.90" height="76.70" fill="#eff0f0"/>
<path d="M56.60,426.20 L66.10,424.90 L67.10,425.01 L68.10,425.13 L69.10,425.26 L70.10,425.40 L71.10,425.55 L72.10,425.70 L73.10,425.87 L74.10,426.04 L75.10,426.22 L76.10,426.41 L77.10,426.62 L78.10,426.83 L79.10,427.05 L80.10,427.29 L81.10,427.54 L82.10,427.80 L83.10,428.08 L84.10,428.37 L85.10,428.66 L86.10,428.96 L87.10,429.27 L88.10,429.60 L89.10,429.93 L90.10,430.28 L91.10,430.63 L92.10,430.99 L93.10,431.36 L94.10,431.73 L95.10,432.12 L96.10,432.51 L97.10,432.91 L98.10,433.32 L99.10,433.74 L100.10,434.16 L101.10,434.59 L102.10,435.03 L103.10,435.48 L104.10,435.95 L105.10,436.44 L106.10,436.97 L107.10,437.53 L108.10,438.13 L109.10,438.75 L110.10,439.39 L111.10,440.05 L112.10,440.70 L113.10,441.35 L114.10,442.00 L115.10,442.66 L116.10,443.34 L117.10,444.06 L118.10,444.82 L119.10,445.63 L120.10,446.51 L121.10,447.43 L122.10,448.42 L123.10,449.45 L124.10,450.53 L125.10,451.67 L126.10,452.84 L127.10,454.05 L128.10,455.33 L129.10,456.69 L130.10,458.16 L131.10,459.78 L132.10,461.56 L133.10,463.66 L134.10,466.04 L135.10,468.65 L136.10,471.40 L137.10,474.22 L138.10,477.08 L138.50,478.30" fill="none" stroke="#3f30c8" stroke-width="1.25" stroke-linejoin="round" stroke-linecap="butt"/>
<path d="M56.60,431.50 L65.50,428.90 L66.50,429.09 L67.50,429.30 L68.50,429.53 L69.50,429.76 L70.50,430.01 L71.50,430.27 L72.50,430.54 L73.50,430.83 L74.50,431.14 L75.50,431.46 L76.50,431.80 L77.50,432.15 L78.50,432.51 L79.50,432.87 L80.50,433.24 L81.50,433.62 L82.50,434.01 L83.50,434.41 L84.50,434.81 L85.50,435.23 L86.50,435.66 L87.50,436.09 L88.50,436.54 L89.50,437.00 L90.50,437.47 L91.50,437.96 L92.50,438.45 L93.50,438.96 L94.50,439.48 L95.50,440.01 L96.50,440.56 L97.50,441.13 L98.50,441.71 L99.50,442.30 L100.50,442.91 L101.50,443.53 L102.50,444.17 L103.50,444.83 L104.50,445.52 L105.50,446.23 L106.50,446.97 L107.50,447.74 L108.50,448.54 L109.50,449.37 L110.50,450.22 L111.50,451.08 L112.50,451.95 L113.50,452.83 L114.50,453.73 L115.50,454.65 L116.50,455.60 L117.50,456.57 L118.50,457.59 L119.50,458.63 L120.50,459.67 L121.50,460.74 L122.50,461.86 L123.50,463.08 L124.50,464.42 L125.50,465.92 L126.50,467.68 L127.50,469.70 L128.50,471.94 L129.50,474.32 L130.50,476.80 L131.50,479.43 L132.50,482.28 L133.50,485.35 L134.50,488.60 L135.50,492.13 L136.50,495.98 L137.10,498.40 L138.50,498.40" fill="none" stroke="#111" stroke-width="1.25" stroke-linejoin="round" stroke-linecap="butt"/>
<path d="M53.30,420.17 L53.30,499.90 L142.80,499.90" fill="none" stroke="#000" stroke-width="1.2" stroke-linecap="square"/>
<path d="M47.90,498.40H53.30M47.90,460.05H53.30M47.90,421.70H53.30M67.80,499.90V505.60M104.00,499.90V505.60M140.20,499.90V505.60" stroke="#000" stroke-width="1.2" fill="none"/>
<path d="M53.39,499.90V502.90M56.90,499.90V502.90M59.77,499.90V502.90M62.19,499.90V502.90M64.29,499.90V502.90M66.14,499.90V502.90M78.70,499.90V502.90M85.07,499.90V502.90M89.59,499.90V502.90M93.10,499.90V502.90M95.97,499.90V502.90M98.39,499.90V502.90M100.49,499.90V502.90M102.34,499.90V502.90M114.90,499.90V502.90M121.27,499.90V502.90M125.79,499.90V502.90M129.30,499.90V502.90M132.17,499.90V502.90M134.59,499.90V502.90M136.69,499.90V502.90M138.54,499.90V502.90" stroke="#000" stroke-width="0.9" fill="none"/>
<text x="42.4" y="502.80" font-size="9.4" text-anchor="end" fill="#1a1a1a" stroke="#1a1a1a" stroke-width="0.12">0.0</text>
<text x="42.4" y="464.45" font-size="9.4" text-anchor="end" fill="#1a1a1a" stroke="#1a1a1a" stroke-width="0.12">0.5</text>
<text x="42.4" y="426.10" font-size="9.4" text-anchor="end" fill="#1a1a1a" stroke="#1a1a1a" stroke-width="0.12">1.0</text>
<text x="98.05" y="411.10" font-size="9.4" text-anchor="middle" fill="#1a1a1a" stroke="#1a1a1a" stroke-width="0.12">1 day ahead</text>
<rect x="163.78" y="421.70" width="81.90" height="76.70" fill="#eff0f0"/>
<path d="M163.78,429.50 L174.50,427.50 L175.50,427.76 L176.50,428.03 L177.50,428.30 L178.50,428.57 L179.50,428.84 L180.50,429.12 L181.50,429.40 L182.50,429.67 L183.50,429.96 L184.50,430.25 L185.50,430.55 L186.50,430.86 L187.50,431.20 L188.50,431.54 L189.50,431.90 L190.50,432.27 L191.50,432.65 L192.50,433.04 L193.50,433.44 L194.50,433.86 L195.50,434.29 L196.50,434.73 L197.50,435.19 L198.50,435.66 L199.50,436.15 L200.50,436.66 L201.50,437.19 L202.50,437.74 L203.50,438.31 L204.50,438.90 L205.50,439.50 L206.50,440.11 L207.50,440.72 L208.50,441.36 L209.50,442.01 L210.50,442.68 L211.50,443.39 L212.50,444.12 L213.50,444.90 L214.50,445.73 L215.50,446.60 L216.50,447.49 L217.50,448.41 L218.50,449.34 L219.50,450.27 L220.50,451.21 L221.50,452.17 L222.50,453.14 L223.50,454.14 L224.50,455.19 L225.50,456.28 L226.50,457.41 L227.50,458.60 L228.50,459.83 L229.50,461.11 L230.50,462.45 L231.50,463.84 L232.50,465.30 L233.50,466.81 L234.50,468.40 L235.50,470.06 L236.50,471.81 L237.50,473.65 L238.50,475.60 L239.50,477.69 L240.50,480.01 L241.50,482.49 L242.50,485.07 L243.50,487.68 L244.50,490.25 L245.50,492.75 L245.68,493.20" fill="none" stroke="#3f30c8" stroke-width="1.25" stroke-linejoin="round" stroke-linecap="butt"/>
<path d="M163.78,433.50 L173.10,430.80 L174.10,431.09 L175.10,431.39 L176.10,431.68 L177.10,431.99 L178.10,432.30 L179.10,432.61 L180.10,432.93 L181.10,433.24 L182.10,433.55 L183.10,433.87 L184.10,434.20 L185.10,434.55 L186.10,434.92 L187.10,435.32 L188.10,435.76 L189.10,436.22 L190.10,436.70 L191.10,437.20 L192.10,437.70 L193.10,438.20 L194.10,438.71 L195.10,439.22 L196.10,439.75 L197.10,440.29 L198.10,440.85 L199.10,441.42 L200.10,442.02 L201.10,442.63 L202.10,443.26 L203.10,443.90 L204.10,444.57 L205.10,445.26 L206.10,445.97 L207.10,446.71 L208.10,447.47 L209.10,448.26 L210.10,449.08 L211.10,449.91 L212.10,450.77 L213.10,451.64 L214.10,452.53 L215.10,453.45 L216.10,454.40 L217.10,455.37 L218.10,456.37 L219.10,457.40 L220.10,458.46 L221.10,459.55 L222.10,460.68 L223.10,461.83 L224.10,463.03 L225.10,464.25 L226.10,465.50 L227.10,466.77 L228.10,468.07 L229.10,469.41 L230.10,470.81 L231.10,472.29 L232.10,473.87 L233.10,475.59 L234.10,477.47 L235.10,479.49 L236.10,481.61 L237.10,483.81 L238.10,486.13 L239.10,488.78 L240.10,491.45 L241.10,493.82 L242.10,495.64 L243.10,497.17 L244.10,498.40 L245.68,498.40" fill="none" stroke="#111" stroke-width="1.25" stroke-linejoin="round" stroke-linecap="butt"/>
<path d="M160.48,420.17 L160.48,499.90 L249.98,499.90" fill="none" stroke="#000" stroke-width="1.2" stroke-linecap="square"/>
<path d="M155.08,498.40H160.48M155.08,460.05H160.48M155.08,421.70H160.48M174.98,499.90V505.60M211.18,499.90V505.60M247.38,499.90V505.60" stroke="#000" stroke-width="1.2" fill="none"/>
<path d="M160.57,499.90V502.90M164.08,499.90V502.90M166.95,499.90V502.90M169.37,499.90V502.90M171.47,499.90V502.90M173.32,499.90V502.90M185.88,499.90V502.90M192.25,499.90V502.90M196.77,499.90V502.90M200.28,499.90V502.90M203.15,499.90V502.90M205.57,499.90V502.90M207.67,499.90V502.90M209.52,499.90V502.90M222.08,499.90V502.90M228.45,499.90V502.90M232.97,499.90V502.90M236.48,499.90V502.90M239.35,499.90V502.90M241.77,499.90V502.90M243.87,499.90V502.90M245.72,499.90V502.90" stroke="#000" stroke-width="0.9" fill="none"/>
<text x="205.23" y="411.10" font-size="9.4" text-anchor="middle" fill="#1a1a1a" stroke="#1a1a1a" stroke-width="0.12">3 days ahead</text>
<rect x="270.96" y="421.70" width="81.90" height="76.70" fill="#eff0f0"/>
<path d="M270.96,432.96 L271.96,432.50 L272.96,432.06 L273.96,431.66 L274.96,431.29 L275.96,430.97 L276.96,430.67 L277.96,430.39 L278.96,430.13 L279.96,429.90 L280.96,429.70 L281.52,429.60 L282.52,429.92 L283.52,430.26 L284.52,430.61 L285.52,430.97 L286.52,431.34 L287.52,431.72 L288.52,432.11 L289.52,432.50 L290.52,432.91 L291.52,433.32 L292.52,433.74 L293.52,434.18 L294.52,434.64 L295.52,435.13 L296.52,435.65 L297.52,436.21 L298.52,436.82 L299.52,437.45 L300.52,438.11 L301.52,438.79 L302.52,439.49 L303.52,440.18 L304.52,440.89 L305.52,441.61 L306.52,442.35 L307.52,443.11 L308.52,443.89 L309.52,444.68 L310.52,445.49 L311.52,446.32 L312.52,447.17 L313.52,448.04 L314.52,448.93 L315.52,449.84 L316.52,450.78 L317.52,451.74 L318.52,452.73 L319.52,453.75 L320.52,454.81 L321.52,455.90 L322.52,457.01 L323.52,458.15 L324.52,459.31 L325.52,460.50 L326.52,461.73 L327.52,463.00 L328.52,464.31 L329.52,465.64 L330.52,466.97 L331.52,468.31 L332.52,469.62 L333.52,470.91 L334.52,472.19 L335.52,473.45 L336.52,474.73 L337.52,476.02 L338.52,477.33 L339.52,478.69 L340.52,480.10 L341.52,481.58 L342.52,483.12 L343.52,484.67 L344.52,486.19 L345.52,487.66 L346.52,489.04 L347.52,490.32 L348.52,491.60 L349.52,492.95 L350.52,494.42 L351.52,496.05 L352.52,497.79 L352.86,498.40" fill="none" stroke="#3f30c8" stroke-width="1.25" stroke-linejoin="round" stroke-linecap="butt"/>
<path d="M270.96,435.73 L271.96,435.34 L272.96,434.96 L273.96,434.59 L274.96,434.23 L275.96,433.88 L276.96,433.53 L277.96,433.20 L278.96,432.87 L279.96,432.55 L280.06,432.52 L281.06,432.83 L282.06,433.15 L283.06,433.50 L284.06,433.86 L285.06,434.23 L286.06,434.62 L287.06,435.02 L288.06,435.44 L289.06,435.87 L290.06,436.32 L291.06,436.79 L292.06,437.28 L293.06,437.79 L294.06,438.32 L295.06,438.88 L296.06,439.47 L297.06,440.09 L298.06,440.74 L299.06,441.42 L300.06,442.11 L301.06,442.82 L302.06,443.54 L303.06,444.28 L304.06,445.03 L305.06,445.80 L306.06,446.60 L307.06,447.42 L308.06,448.26 L309.06,449.13 L310.06,450.04 L311.06,450.98 L312.06,451.96 L313.06,452.97 L314.06,454.00 L315.06,455.04 L316.06,456.09 L317.06,457.13 L318.06,458.19 L319.06,459.25 L320.06,460.33 L321.06,461.43 L322.06,462.55 L323.06,463.70 L324.06,464.88 L325.06,466.10 L326.06,467.36 L327.06,468.65 L328.06,469.97 L329.06,471.30 L330.06,472.65 L331.06,474.00 L332.06,475.35 L333.06,476.72 L334.06,478.10 L335.06,479.50 L336.06,480.91 L337.06,482.33 L338.06,483.77 L339.06,485.22 L340.06,486.66 L341.06,488.11 L342.06,489.59 L343.06,491.12 L344.06,492.72 L345.06,494.41 L346.06,496.22 L347.06,498.11 L347.21,498.40 L352.86,498.40" fill="none" stroke="#111" stroke-width="1.25" stroke-linejoin="round" stroke-linecap="butt"/>
<path d="M267.66,420.17 L267.66,499.90 L357.16,499.90" fill="none" stroke="#000" stroke-width="1.2" stroke-linecap="square"/>
<path d="M262.26,498.40H267.66M262.26,460.05H267.66M262.26,421.70H267.66M282.16,499.90V505.60M318.36,499.90V505.60M354.56,499.90V505.60" stroke="#000" stroke-width="1.2" fill="none"/>
<path d="M267.75,499.90V502.90M271.26,499.90V502.90M274.13,499.90V502.90M276.55,499.90V502.90M278.65,499.90V502.90M280.50,499.90V502.90M293.06,499.90V502.90M299.43,499.90V502.90M303.95,499.90V502.90M307.46,499.90V502.90M310.33,499.90V502.90M312.75,499.90V502.90M314.85,499.90V502.90M316.70,499.90V502.90M329.26,499.90V502.90M335.63,499.90V502.90M340.15,499.90V502.90M343.66,499.90V502.90M346.53,499.90V502.90M348.95,499.90V502.90M351.05,499.90V502.90M352.90,499.90V502.90" stroke="#000" stroke-width="0.9" fill="none"/>
<text x="312.41" y="411.10" font-size="9.4" text-anchor="middle" fill="#1a1a1a" stroke="#1a1a1a" stroke-width="0.12">5 days ahead</text>
<rect x="378.14" y="421.70" width="79.28" height="76.70" fill="#eff0f0"/>
<path d="M378.14,438.36 L379.14,437.61 L380.14,436.92 L381.14,436.28 L382.14,435.71 L383.14,435.22 L384.14,434.76 L385.14,434.34 L386.14,433.95 L387.14,433.62 L388.14,433.34 L388.52,433.25 L389.52,433.76 L390.52,434.29 L391.52,434.82 L392.52,435.36 L393.52,435.90 L394.52,436.46 L395.52,437.02 L396.52,437.59 L397.52,438.15 L398.52,438.72 L399.52,439.30 L400.52,439.90 L401.52,440.52 L402.52,441.17 L403.52,441.85 L404.52,442.57 L405.52,443.34 L406.52,444.13 L407.52,444.95 L408.52,445.79 L409.52,446.64 L410.52,447.50 L411.52,448.36 L412.52,449.24 L413.52,450.14 L414.52,451.06 L415.52,451.99 L416.52,452.95 L417.52,453.93 L418.52,454.93 L419.52,455.96 L420.52,457.00 L421.52,458.08 L422.52,459.17 L423.52,460.29 L424.52,461.43 L425.52,462.60 L426.52,463.81 L427.52,465.05 L428.52,466.31 L429.52,467.60 L430.52,468.89 L431.52,470.18 L432.52,471.47 L433.52,472.76 L434.52,474.07 L435.52,475.39 L436.52,476.71 L437.52,478.02 L438.52,479.31 L439.52,480.57 L440.52,481.83 L441.52,483.08 L442.52,484.33 L443.52,485.56 L444.52,486.76 L445.52,487.92 L446.52,489.03 L447.52,490.09 L448.52,491.10 L449.52,492.08 L450.52,493.02 L451.52,493.93 L452.52,494.80 L453.52,495.64 L454.52,496.45 L455.52,497.22 L456.52,497.96 L457.13,498.40 L460.04,498.40" fill="none" stroke="#3f30c8" stroke-width="1.25" stroke-linejoin="round" stroke-linecap="butt"/>
<path d="M378.14,439.09 L379.14,438.54 L380.14,438.03 L381.14,437.55 L382.14,437.12 L383.14,436.72 L384.14,436.35 L385.14,436.00 L386.14,435.69 L387.06,435.44 L388.06,435.87 L389.06,436.33 L390.06,436.80 L391.06,437.30 L392.06,437.82 L393.06,438.36 L394.06,438.92 L395.06,439.49 L396.06,440.09 L397.06,440.72 L398.06,441.37 L399.06,442.05 L400.06,442.75 L401.06,443.47 L402.06,444.20 L403.06,444.97 L404.06,445.77 L405.06,446.60 L406.06,447.46 L407.06,448.33 L408.06,449.22 L409.06,450.13 L410.06,451.06 L411.06,452.01 L412.06,452.99 L413.06,454.00 L414.06,455.02 L415.06,456.06 L416.06,457.12 L417.06,458.21 L418.06,459.33 L419.06,460.47 L420.06,461.64 L421.06,462.82 L422.06,464.01 L423.06,465.21 L424.06,466.41 L425.06,467.62 L426.06,468.85 L427.06,470.08 L428.06,471.33 L429.06,472.58 L430.06,473.85 L431.06,475.11 L432.06,476.40 L433.06,477.71 L434.06,479.03 L435.06,480.35 L436.06,481.66 L437.06,482.96 L438.06,484.22 L439.06,485.47 L440.06,486.71 L441.06,487.94 L442.06,489.16 L443.06,490.35 L444.06,491.52 L445.06,492.66 L446.06,493.77 L447.06,494.84 L448.06,495.89 L449.06,496.91 L450.06,497.91 L450.56,498.40 L460.04,498.40" fill="none" stroke="#111" stroke-width="1.25" stroke-linejoin="round" stroke-linecap="butt"/>
<path d="M374.84,420.17 L374.84,499.90 L464.34,499.90" fill="none" stroke="#000" stroke-width="1.2" stroke-linecap="square"/>
<path d="M369.44,498.40H374.84M369.44,460.05H374.84M369.44,421.70H374.84M389.34,499.90V505.60M425.54,499.90V505.60M461.74,499.90V505.60" stroke="#000" stroke-width="1.2" fill="none"/>
<path d="M374.93,499.90V502.90M378.44,499.90V502.90M381.31,499.90V502.90M383.73,499.90V502.90M385.83,499.90V502.90M387.68,499.90V502.90M400.24,499.90V502.90M406.61,499.90V502.90M411.13,499.90V502.90M414.64,499.90V502.90M417.51,499.90V502.90M419.93,499.90V502.90M422.03,499.90V502.90M423.88,499.90V502.90M436.44,499.90V502.90M442.81,499.90V502.90M447.33,499.90V502.90M450.84,499.90V502.90M453.71,499.90V502.90M456.13,499.90V502.90M458.23,499.90V502.90M460.08,499.90V502.90" stroke="#000" stroke-width="0.9" fill="none"/>
<text x="419.59" y="411.10" font-size="9.4" text-anchor="middle" fill="#1a1a1a" stroke="#1a1a1a" stroke-width="0.12">7 days ahead</text>
<rect x="491.43" y="421.70" width="71.97" height="76.70" fill="#eff0f0"/>
<path d="M485.32,445.66 L486.32,444.94 L487.32,444.22 L488.32,443.50 L489.32,442.79 L490.32,442.07 L491.32,441.36 L492.32,440.64 L493.32,439.93 L494.32,439.21 L495.32,438.50 L495.52,438.36 L496.52,438.99 L497.52,439.64 L498.52,440.32 L499.52,441.02 L500.52,441.74 L501.52,442.48 L502.52,443.24 L503.52,444.01 L504.52,444.82 L505.52,445.64 L506.52,446.50 L507.52,447.37 L508.52,448.27 L509.52,449.18 L510.52,450.13 L511.52,451.11 L512.52,452.12 L513.52,453.16 L514.52,454.22 L515.52,455.30 L516.52,456.37 L517.52,457.45 L518.52,458.52 L519.52,459.61 L520.52,460.70 L521.52,461.80 L522.52,462.91 L523.52,464.03 L524.52,465.14 L525.52,466.27 L526.52,467.40 L527.52,468.53 L528.52,469.67 L529.52,470.82 L530.52,471.97 L531.52,473.12 L532.52,474.27 L533.52,475.44 L534.52,476.62 L535.52,477.80 L536.52,478.97 L537.52,480.13 L538.52,481.27 L539.52,482.38 L540.52,483.48 L541.52,484.58 L542.52,485.67 L543.52,486.73 L544.52,487.76 L545.52,488.74 L546.52,489.66 L547.52,490.53 L548.52,491.37 L549.52,492.17 L550.52,492.95 L551.52,493.68 L552.52,494.38 L553.52,495.04 L554.52,495.66 L555.52,496.25 L556.52,496.82 L557.52,497.34 L558.52,497.84 L559.52,498.30 L559.75,498.40 L567.22,498.40" fill="none" stroke="#3f30c8" stroke-width="1.25" stroke-linejoin="round" stroke-linecap="butt"/>
<path d="M485.32,445.66 L486.32,445.16 L487.32,444.65 L488.32,444.14 L489.32,443.61 L490.32,443.08 L491.32,442.53 L492.32,441.98 L493.32,441.41 L494.06,440.99 L495.06,441.67 L496.06,442.38 L497.06,443.10 L498.06,443.84 L499.06,444.60 L500.06,445.37 L501.06,446.15 L502.06,446.95 L503.06,447.76 L504.06,448.59 L505.06,449.44 L506.06,450.30 L507.06,451.19 L508.06,452.11 L509.06,453.04 L510.06,454.02 L511.06,455.02 L512.06,456.04 L513.06,457.10 L514.06,458.17 L515.06,459.26 L516.06,460.37 L517.06,461.51 L518.06,462.69 L519.06,463.89 L520.06,465.11 L521.06,466.34 L522.06,467.56 L523.06,468.78 L524.06,469.98 L525.06,471.18 L526.06,472.38 L527.06,473.58 L528.06,474.78 L529.06,475.98 L530.06,477.18 L531.06,478.38 L532.06,479.60 L533.06,480.84 L534.06,482.07 L535.06,483.29 L536.06,484.49 L537.06,485.65 L538.06,486.76 L539.06,487.83 L540.06,488.89 L541.06,489.93 L542.06,490.94 L543.06,491.91 L544.06,492.85 L545.06,493.75 L546.06,494.61 L547.06,495.44 L548.06,496.24 L549.06,497.01 L550.06,497.74 L550.99,498.40 L567.22,498.40" fill="none" stroke="#111" stroke-width="1.25" stroke-linejoin="round" stroke-linecap="butt"/>
<path d="M482.02,420.17 L482.02,499.90 L571.52,499.90" fill="none" stroke="#000" stroke-width="1.2" stroke-linecap="square"/>
<path d="M476.62,498.40H482.02M476.62,460.05H482.02M476.62,421.70H482.02M496.52,499.90V505.60M532.72,499.90V505.60M568.92,499.90V505.60" stroke="#000" stroke-width="1.2" fill="none"/>
<path d="M482.11,499.90V502.90M485.62,499.90V502.90M488.49,499.90V502.90M490.91,499.90V502.90M493.01,499.90V502.90M494.86,499.90V502.90M507.42,499.90V502.90M513.79,499.90V502.90M518.31,499.90V502.90M521.82,499.90V502.90M524.69,499.90V502.90M527.11,499.90V502.90M529.21,499.90V502.90M531.06,499.90V502.90M543.62,499.90V502.90M549.99,499.90V502.90M554.51,499.90V502.90M558.02,499.90V502.90M560.89,499.90V502.90M563.31,499.90V502.90M565.41,499.90V502.90M567.26,499.90V502.90" stroke="#000" stroke-width="0.9" fill="none"/>
<text x="526.77" y="411.10" font-size="9.4" text-anchor="middle" fill="#1a1a1a" stroke="#1a1a1a" stroke-width="0.12">10 days ahead</text>
<rect x="603.25" y="421.70" width="65.69" height="76.70" fill="#eff0f0"/>
<path d="M592.50,453.69 L593.50,452.78 L594.50,451.88 L595.50,450.99 L596.50,450.10 L597.50,449.23 L598.50,448.36 L599.50,447.49 L600.50,446.64 L601.50,445.79 L602.50,444.94 L602.52,444.93 L603.52,445.88 L604.52,446.86 L605.52,447.84 L606.52,448.84 L607.52,449.85 L608.52,450.88 L609.52,451.91 L610.52,452.96 L611.52,454.02 L612.52,455.08 L613.52,456.17 L614.52,457.27 L615.52,458.39 L616.52,459.55 L617.52,460.74 L618.52,461.99 L619.52,463.29 L620.52,464.62 L621.52,465.96 L622.52,467.29 L623.52,468.60 L624.52,469.87 L625.52,471.11 L626.52,472.34 L627.52,473.56 L628.52,474.76 L629.52,475.95 L630.52,477.12 L631.52,478.28 L632.52,479.43 L633.52,480.59 L634.52,481.75 L635.52,482.89 L636.52,484.00 L637.52,485.06 L638.52,486.06 L639.52,487.00 L640.52,487.89 L641.52,488.75 L642.52,489.58 L643.52,490.37 L644.52,491.12 L645.52,491.83 L646.52,492.51 L647.52,493.16 L648.52,493.81 L649.52,494.42 L650.52,495.01 L651.52,495.54 L652.52,496.02 L653.52,496.43 L654.52,496.78 L655.52,497.12 L656.52,497.43 L657.52,497.72 L658.52,497.97 L659.52,498.18 L660.52,498.35 L660.91,498.40 L674.40,498.40" fill="none" stroke="#3f30c8" stroke-width="1.25" stroke-linejoin="round" stroke-linecap="butt"/>
<path d="M592.50,453.25 L593.50,452.62 L594.50,451.95 L595.50,451.23 L596.50,450.47 L597.50,449.67 L598.50,448.82 L599.50,447.91 L600.50,446.94 L601.06,446.39 L602.06,447.19 L603.06,448.04 L604.06,448.94 L605.06,449.88 L606.06,450.86 L607.06,451.88 L608.06,452.93 L609.06,454.02 L610.06,455.20 L611.06,456.43 L612.06,457.71 L613.06,459.02 L614.06,460.34 L615.06,461.66 L616.06,462.97 L617.06,464.29 L618.06,465.64 L619.06,467.00 L620.06,468.36 L621.06,469.71 L622.06,471.05 L623.06,472.36 L624.06,473.66 L625.06,474.95 L626.06,476.24 L627.06,477.51 L628.06,478.76 L629.06,479.99 L630.06,481.19 L631.06,482.37 L632.06,483.54 L633.06,484.70 L634.06,485.84 L635.06,486.94 L636.06,487.99 L637.06,488.98 L638.06,489.92 L639.06,490.82 L640.06,491.69 L641.06,492.52 L642.06,493.32 L643.06,494.07 L644.06,494.77 L645.06,495.42 L646.06,496.03 L647.06,496.61 L648.06,497.16 L649.06,497.66 L650.06,498.13 L650.69,498.40 L674.40,498.40" fill="none" stroke="#111" stroke-width="1.25" stroke-linejoin="round" stroke-linecap="butt"/>
<path d="M589.20,420.17 L589.20,499.90 L678.70,499.90" fill="none" stroke="#000" stroke-width="1.2" stroke-linecap="square"/>
<path d="M583.80,498.40H589.20M583.80,460.05H589.20M583.80,421.70H589.20M603.70,499.90V505.60M639.90,499.90V505.60M676.10,499.90V505.60" stroke="#000" stroke-width="1.2" fill="none"/>
<path d="M589.29,499.90V502.90M592.80,499.90V502.90M595.67,499.90V502.90M598.09,499.90V502.90M600.19,499.90V502.90M602.04,499.90V502.90M614.60,499.90V502.90M620.97,499.90V502.90M625.49,499.90V502.90M629.00,499.90V502.90M631.87,499.90V502.90M634.29,499.90V502.90M636.39,499.90V502.90M638.24,499.90V502.90M650.80,499.90V502.90M657.17,499.90V502.90M661.69,499.90V502.90M665.20,499.90V502.90M668.07,499.90V502.90M670.49,499.90V502.90M672.59,499.90V502.90M674.44,499.90V502.90" stroke="#000" stroke-width="0.9" fill="none"/>
<text x="633.95" y="411.10" font-size="9.4" text-anchor="middle" fill="#1a1a1a" stroke="#1a1a1a" stroke-width="0.12">15 days ahead</text>
<text transform="translate(19.1,461.05) rotate(-90)" font-size="9.4" text-anchor="middle" fill="#1a1a1a" stroke="#1a1a1a" stroke-width="0.12">1.0% extremes</text>
<rect x="56.60" y="517.25" width="81.90" height="76.70" fill="#eff0f0"/>
<path d="M56.60,522.68 L57.60,522.85 L58.60,523.04 L59.60,523.24 L60.60,523.46 L61.60,523.69 L62.60,523.93 L63.60,524.17 L64.60,524.43 L65.60,524.70 L66.60,524.99 L67.60,525.30 L68.60,525.63 L69.60,525.96 L70.60,526.31 L71.60,526.66 L72.60,527.02 L73.60,527.39 L74.60,527.78 L75.60,528.17 L76.60,528.58 L77.60,529.00 L78.60,529.43 L79.60,529.86 L80.60,530.31 L81.60,530.77 L82.60,531.25 L83.60,531.73 L84.60,532.23 L85.60,532.73 L86.60,533.24 L87.60,533.76 L88.60,534.30 L89.60,534.84 L90.60,535.39 L91.60,535.96 L92.60,536.55 L93.60,537.16 L94.60,537.79 L95.60,538.45 L96.60,539.13 L97.60,539.83 L98.60,540.55 L99.60,541.28 L100.60,542.02 L101.60,542.76 L102.60,543.52 L103.60,544.28 L104.60,545.06 L105.60,545.86 L106.60,546.68 L107.60,547.53 L108.60,548.41 L109.60,549.33 L110.60,550.28 L111.60,551.27 L112.60,552.28 L113.60,553.31 L114.60,554.36 L115.60,555.43 L116.60,556.50 L117.60,557.58 L118.60,558.69 L119.60,559.82 L120.60,560.97 L121.60,562.15 L122.60,563.36 L123.60,564.61 L124.60,565.90 L125.60,567.22 L126.60,568.58 L127.60,569.96 L128.60,571.36 L129.60,572.78 L130.60,574.22 L131.60,575.71 L132.60,577.23 L133.60,578.75 L134.60,580.24 L135.60,581.68 L136.60,583.10 L137.60,584.50 L138.50,585.74" fill="none" stroke="#3f30c8" stroke-width="1.25" stroke-linejoin="round" stroke-linecap="butt"/>
<path d="M56.60,528.23 L57.60,528.44 L58.60,528.66 L59.60,528.90 L60.60,529.15 L61.60,529.41 L62.60,529.69 L63.60,529.98 L64.60,530.27 L65.60,530.58 L66.60,530.91 L67.60,531.26 L68.60,531.63 L69.60,532.00 L70.60,532.39 L71.60,532.78 L72.60,533.18 L73.60,533.59 L74.60,534.01 L75.60,534.44 L76.60,534.88 L77.60,535.34 L78.60,535.82 L79.60,536.31 L80.60,536.82 L81.60,537.35 L82.60,537.90 L83.60,538.46 L84.60,539.05 L85.60,539.65 L86.60,540.26 L87.60,540.90 L88.60,541.56 L89.60,542.24 L90.60,542.94 L91.60,543.66 L92.60,544.40 L93.60,545.16 L94.60,545.94 L95.60,546.74 L96.60,547.57 L97.60,548.42 L98.60,549.30 L99.60,550.20 L100.60,551.12 L101.60,552.06 L102.60,553.03 L103.60,554.02 L104.60,555.03 L105.60,556.08 L106.60,557.16 L107.60,558.27 L108.60,559.41 L109.60,560.58 L110.60,561.77 L111.60,563.00 L112.60,564.28 L113.60,565.62 L114.60,567.03 L115.60,568.52 L116.60,570.12 L117.60,571.85 L118.60,573.69 L119.60,575.63 L120.60,577.66 L121.60,579.76 L122.60,582.09 L123.60,584.61 L124.60,587.07 L125.60,589.24 L126.60,591.24 L127.60,593.08 L128.10,593.95 L138.50,593.95" fill="none" stroke="#111" stroke-width="1.25" stroke-linejoin="round" stroke-linecap="butt"/>
<path d="M53.30,515.72 L53.30,595.45 L142.80,595.45" fill="none" stroke="#000" stroke-width="1.2" stroke-linecap="square"/>
<path d="M47.90,593.95H53.30M47.90,555.60H53.30M47.90,517.25H53.30M67.80,595.45V601.15M104.00,595.45V601.15M140.20,595.45V601.15" stroke="#000" stroke-width="1.2" fill="none"/>
<path d="M53.39,595.45V598.45M56.90,595.45V598.45M59.77,595.45V598.45M62.19,595.45V598.45M64.29,595.45V598.45M66.14,595.45V598.45M78.70,595.45V598.45M85.07,595.45V598.45M89.59,595.45V598.45M93.10,595.45V598.45M95.97,595.45V598.45M98.39,595.45V598.45M100.49,595.45V598.45M102.34,595.45V598.45M114.90,595.45V598.45M121.27,595.45V598.45M125.79,595.45V598.45M129.30,595.45V598.45M132.17,595.45V598.45M134.59,595.45V598.45M136.69,595.45V598.45M138.54,595.45V598.45" stroke="#000" stroke-width="0.9" fill="none"/>
<text x="42.4" y="598.35" font-size="9.4" text-anchor="end" fill="#1a1a1a" stroke="#1a1a1a" stroke-width="0.12">0.0</text>
<text x="42.4" y="560.00" font-size="9.4" text-anchor="end" fill="#1a1a1a" stroke="#1a1a1a" stroke-width="0.12">0.5</text>
<text x="42.4" y="521.65" font-size="9.4" text-anchor="end" fill="#1a1a1a" stroke="#1a1a1a" stroke-width="0.12">1.0</text>
<rect x="163.78" y="517.25" width="80.08" height="76.70" fill="#eff0f0"/>
<path d="M163.78,527.06 L164.78,527.38 L165.78,527.71 L166.78,528.07 L167.78,528.43 L168.78,528.82 L169.78,529.22 L170.78,529.63 L171.78,530.06 L172.78,530.51 L173.78,530.98 L174.78,531.48 L175.78,531.99 L176.78,532.52 L177.78,533.04 L178.78,533.57 L179.78,534.08 L180.78,534.59 L181.78,535.11 L182.78,535.63 L183.78,536.17 L184.78,536.73 L185.78,537.32 L186.78,537.94 L187.78,538.59 L188.78,539.28 L189.78,539.99 L190.78,540.73 L191.78,541.49 L192.78,542.26 L193.78,543.05 L194.78,543.87 L195.78,544.72 L196.78,545.60 L197.78,546.49 L198.78,547.40 L199.78,548.31 L200.78,549.23 L201.78,550.16 L202.78,551.09 L203.78,552.04 L204.78,553.00 L205.78,553.97 L206.78,554.95 L207.78,555.94 L208.78,556.94 L209.78,557.95 L210.78,558.98 L211.78,560.01 L212.78,561.06 L213.78,562.12 L214.78,563.19 L215.78,564.26 L216.78,565.36 L217.78,566.47 L218.78,567.59 L219.78,568.72 L220.78,569.85 L221.78,570.99 L222.78,572.12 L223.78,573.26 L224.78,574.42 L225.78,575.59 L226.78,576.75 L227.78,577.90 L228.78,579.02 L229.78,580.12 L230.78,581.18 L231.78,582.23 L232.78,583.26 L233.78,584.28 L234.78,585.27 L235.78,586.24 L236.78,587.18 L237.78,588.08 L238.78,588.96 L239.78,589.81 L240.78,590.61 L241.78,591.37 L242.78,592.09 L243.78,592.77 L244.78,593.41 L245.68,593.95" fill="none" stroke="#3f30c8" stroke-width="1.25" stroke-linejoin="round" stroke-linecap="butt"/>
<path d="M163.78,531.88 L164.78,532.23 L165.78,532.60 L166.78,532.99 L167.78,533.40 L168.78,533.82 L169.78,534.26 L170.78,534.71 L171.78,535.17 L172.78,535.66 L173.78,536.16 L174.78,536.69 L175.78,537.23 L176.78,537.80 L177.78,538.37 L178.78,538.96 L179.78,539.56 L180.78,540.18 L181.78,540.82 L182.78,541.47 L183.78,542.15 L184.78,542.84 L185.78,543.55 L186.78,544.27 L187.78,545.02 L188.78,545.79 L189.78,546.58 L190.78,547.40 L191.78,548.22 L192.78,549.07 L193.78,549.93 L194.78,550.82 L195.78,551.72 L196.78,552.65 L197.78,553.60 L198.78,554.56 L199.78,555.54 L200.78,556.53 L201.78,557.54 L202.78,558.56 L203.78,559.60 L204.78,560.65 L205.78,561.73 L206.78,562.82 L207.78,563.93 L208.78,565.06 L209.78,566.22 L210.78,567.40 L211.78,568.60 L212.78,569.81 L213.78,571.04 L214.78,572.28 L215.78,573.53 L216.78,574.78 L217.78,576.05 L218.78,577.33 L219.78,578.63 L220.78,579.95 L221.78,581.29 L222.78,582.65 L223.78,584.10 L224.78,585.63 L225.78,587.17 L226.78,588.67 L227.78,590.06 L228.78,591.29 L229.78,592.37 L230.78,593.35 L231.45,593.95 L245.68,593.95" fill="none" stroke="#111" stroke-width="1.25" stroke-linejoin="round" stroke-linecap="butt"/>
<path d="M160.48,515.72 L160.48,595.45 L249.98,595.45" fill="none" stroke="#000" stroke-width="1.2" stroke-linecap="square"/>
<path d="M155.08,593.95H160.48M155.08,555.60H160.48M155.08,517.25H160.48M174.98,595.45V601.15M211.18,595.45V601.15M247.38,595.45V601.15" stroke="#000" stroke-width="1.2" fill="none"/>
<path d="M160.57,595.45V598.45M164.08,595.45V598.45M166.95,595.45V598.45M169.37,595.45V598.45M171.47,595.45V598.45M173.32,595.45V598.45M185.88,595.45V598.45M192.25,595.45V598.45M196.77,595.45V598.45M200.28,595.45V598.45M203.15,595.45V598.45M205.57,595.45V598.45M207.67,595.45V598.45M209.52,595.45V598.45M222.08,595.45V598.45M228.45,595.45V598.45M232.97,595.45V598.45M236.48,595.45V598.45M239.35,595.45V598.45M241.77,595.45V598.45M243.87,595.45V598.45M245.72,595.45V598.45" stroke="#000" stroke-width="0.9" fill="none"/>
<rect x="270.96" y="517.25" width="79.90" height="76.70" fill="#eff0f0"/>
<path d="M270.96,531.88 L271.96,532.19 L272.96,532.55 L273.96,532.93 L274.96,533.35 L275.96,533.80 L276.96,534.27 L277.96,534.76 L278.96,535.28 L279.96,535.86 L280.96,536.51 L281.96,537.19 L282.96,537.90 L283.96,538.60 L284.96,539.29 L285.96,539.94 L286.96,540.55 L287.96,541.13 L288.96,541.70 L289.96,542.26 L290.96,542.85 L291.96,543.46 L292.96,544.12 L293.96,544.84 L294.96,545.61 L295.96,546.42 L296.96,547.27 L297.96,548.14 L298.96,549.04 L299.96,549.93 L300.96,550.83 L301.96,551.75 L302.96,552.69 L303.96,553.65 L304.96,554.62 L305.96,555.60 L306.96,556.59 L307.96,557.59 L308.96,558.60 L309.96,559.62 L310.96,560.65 L311.96,561.69 L312.96,562.74 L313.96,563.80 L314.96,564.87 L315.96,565.95 L316.96,567.03 L317.96,568.13 L318.96,569.24 L319.96,570.35 L320.96,571.46 L321.96,572.57 L322.96,573.67 L323.96,574.80 L324.96,575.93 L325.96,577.06 L326.96,578.18 L327.96,579.28 L328.96,580.33 L329.96,581.34 L330.96,582.32 L331.96,583.30 L332.96,584.25 L333.96,585.17 L334.96,586.04 L335.96,586.86 L336.96,587.62 L337.96,588.32 L338.96,588.99 L339.96,589.62 L340.96,590.22 L341.96,590.79 L342.96,591.33 L343.96,591.85 L344.96,592.35 L345.96,592.82 L346.96,593.26 L347.96,593.67 L348.67,593.95 L352.86,593.95" fill="none" stroke="#3f30c8" stroke-width="1.25" stroke-linejoin="round" stroke-linecap="butt"/>
<path d="M270.96,536.26 L271.96,536.57 L272.96,536.93 L273.96,537.31 L274.96,537.73 L275.96,538.18 L276.96,538.65 L277.96,539.14 L278.96,539.66 L279.96,540.22 L280.96,540.84 L281.96,541.49 L282.96,542.18 L283.96,542.88 L284.96,543.61 L285.96,544.33 L286.96,545.07 L287.96,545.83 L288.96,546.61 L289.96,547.41 L290.96,548.23 L291.96,549.07 L292.96,549.92 L293.96,550.79 L294.96,551.68 L295.96,552.59 L296.96,553.53 L297.96,554.48 L298.96,555.45 L299.96,556.44 L300.96,557.46 L301.96,558.51 L302.96,559.59 L303.96,560.69 L304.96,561.81 L305.96,562.94 L306.96,564.07 L307.96,565.20 L308.96,566.33 L309.96,567.47 L310.96,568.62 L311.96,569.78 L312.96,570.95 L313.96,572.13 L314.96,573.32 L315.96,574.52 L316.96,575.73 L317.96,576.95 L318.96,578.18 L319.96,579.42 L320.96,580.68 L321.96,581.97 L322.96,583.29 L323.96,584.72 L324.96,586.18 L325.96,587.64 L326.96,589.02 L327.96,590.26 L328.96,591.33 L329.96,592.32 L330.96,593.21 L331.88,593.95 L352.86,593.95" fill="none" stroke="#111" stroke-width="1.25" stroke-linejoin="round" stroke-linecap="butt"/>
<path d="M267.66,515.72 L267.66,595.45 L357.16,595.45" fill="none" stroke="#000" stroke-width="1.2" stroke-linecap="square"/>
<path d="M262.26,593.95H267.66M262.26,555.60H267.66M262.26,517.25H267.66M282.16,595.45V601.15M318.36,595.45V601.15M354.56,595.45V601.15" stroke="#000" stroke-width="1.2" fill="none"/>
<path d="M267.75,595.45V598.45M271.26,595.45V598.45M274.13,595.45V598.45M276.55,595.45V598.45M278.65,595.45V598.45M280.50,595.45V598.45M293.06,595.45V598.45M299.43,595.45V598.45M303.95,595.45V598.45M307.46,595.45V598.45M310.33,595.45V598.45M312.75,595.45V598.45M314.85,595.45V598.45M316.70,595.45V598.45M329.26,595.45V598.45M335.63,595.45V598.45M340.15,595.45V598.45M343.66,595.45V598.45M346.53,595.45V598.45M348.95,595.45V598.45M351.05,595.45V598.45M352.90,595.45V598.45" stroke="#000" stroke-width="0.9" fill="none"/>
<rect x="378.14" y="517.25" width="74.90" height="76.70" fill="#eff0f0"/>
<path d="M378.14,538.74 L379.14,539.44 L380.14,540.15 L381.14,540.88 L382.14,541.63 L383.14,542.38 L384.14,543.15 L385.14,543.92 L386.14,544.72 L387.14,545.54 L388.14,546.38 L389.14,547.23 L390.14,548.09 L391.14,548.94 L392.14,549.79 L393.14,550.61 L394.14,551.41 L395.14,552.19 L396.14,552.96 L397.14,553.73 L398.14,554.52 L399.14,555.34 L400.14,556.20 L401.14,557.11 L402.14,558.06 L403.14,559.05 L404.14,560.06 L405.14,561.09 L406.14,562.13 L407.14,563.18 L408.14,564.24 L409.14,565.32 L410.14,566.42 L411.14,567.53 L412.14,568.65 L413.14,569.77 L414.14,570.87 L415.14,571.96 L416.14,573.05 L417.14,574.15 L418.14,575.25 L419.14,576.33 L420.14,577.39 L421.14,578.40 L422.14,579.36 L423.14,580.29 L424.14,581.20 L425.14,582.08 L426.14,582.94 L427.14,583.76 L428.14,584.54 L429.14,585.27 L430.14,585.97 L431.14,586.65 L432.14,587.30 L433.14,587.93 L434.14,588.52 L435.14,589.07 L436.14,589.57 L437.14,590.03 L438.14,590.45 L439.14,590.84 L440.14,591.21 L441.14,591.56 L442.14,591.89 L443.14,592.20 L444.14,592.50 L445.14,592.79 L446.14,593.07 L447.14,593.33 L448.14,593.57 L449.14,593.80 L449.83,593.95 L460.04,593.95" fill="none" stroke="#3f30c8" stroke-width="1.25" stroke-linejoin="round" stroke-linecap="butt"/>
<path d="M378.14,543.12 L379.14,543.71 L380.14,544.33 L381.14,544.99 L382.14,545.67 L383.14,546.38 L384.14,547.11 L385.14,547.87 L386.14,548.65 L387.14,549.48 L388.14,550.34 L389.14,551.24 L390.14,552.17 L391.14,553.11 L392.14,554.07 L393.14,555.03 L394.14,556.01 L395.14,557.02 L396.14,558.05 L397.14,559.09 L398.14,560.16 L399.14,561.23 L400.14,562.32 L401.14,563.43 L402.14,564.57 L403.14,565.72 L404.14,566.89 L405.14,568.07 L406.14,569.25 L407.14,570.43 L408.14,571.62 L409.14,572.82 L410.14,574.04 L411.14,575.26 L412.14,576.47 L413.14,577.67 L414.14,578.85 L415.14,580.01 L416.14,581.16 L417.14,582.31 L418.14,583.45 L419.14,584.56 L420.14,585.65 L421.14,586.69 L422.14,587.69 L423.14,588.68 L424.14,589.67 L425.14,590.63 L426.14,591.51 L427.14,592.27 L428.14,592.86 L429.14,593.34 L430.14,593.74 L430.85,593.95 L460.04,593.95" fill="none" stroke="#111" stroke-width="1.25" stroke-linejoin="round" stroke-linecap="butt"/>
<path d="M374.84,515.72 L374.84,595.45 L464.34,595.45" fill="none" stroke="#000" stroke-width="1.2" stroke-linecap="square"/>
<path d="M369.44,593.95H374.84M369.44,555.60H374.84M369.44,517.25H374.84M389.34,595.45V601.15M425.54,595.45V601.15M461.74,595.45V601.15" stroke="#000" stroke-width="1.2" fill="none"/>
<path d="M374.93,595.45V598.45M378.44,595.45V598.45M381.31,595.45V598.45M383.73,595.45V598.45M385.83,595.45V598.45M387.68,595.45V598.45M400.24,595.45V598.45M406.61,595.45V598.45M411.13,595.45V598.45M414.64,595.45V598.45M417.51,595.45V598.45M419.93,595.45V598.45M422.03,595.45V598.45M423.88,595.45V598.45M436.44,595.45V598.45M442.81,595.45V598.45M447.33,595.45V598.45M450.84,595.45V598.45M453.71,595.45V598.45M456.13,595.45V598.45M458.23,595.45V598.45M460.08,595.45V598.45" stroke="#000" stroke-width="0.9" fill="none"/>
<rect x="485.32" y="517.25" width="52.53" height="76.70" fill="#eff0f0"/>
<rect x="540.48" y="517.25" width="1.46" height="76.70" fill="#eff0f0"/>
<path d="M485.32,552.61 L486.32,553.25 L487.32,553.99 L488.32,554.80 L489.32,555.68 L490.32,556.62 L491.32,557.61 L492.32,558.79 L493.32,560.13 L494.32,561.51 L495.32,562.81 L496.32,563.92 L497.32,564.83 L498.32,565.64 L499.32,566.38 L500.32,567.11 L501.32,567.85 L502.32,568.66 L503.32,569.57 L504.32,570.58 L505.32,571.64 L506.32,572.74 L507.32,573.83 L508.32,574.89 L509.32,575.90 L510.32,576.91 L511.32,577.91 L512.32,578.90 L513.32,579.87 L514.32,580.81 L515.32,581.70 L516.32,582.54 L517.32,583.36 L518.32,584.15 L519.32,584.91 L520.32,585.65 L521.32,586.35 L522.32,587.03 L523.32,587.68 L524.32,588.32 L525.32,588.95 L526.32,589.56 L527.32,590.15 L528.32,590.69 L529.32,591.19 L530.32,591.64 L531.32,592.03 L532.32,592.40 L533.32,592.75 L534.32,593.07 L535.32,593.37 L536.32,593.63 L537.32,593.85 L537.85,593.95 L567.22,593.95" fill="none" stroke="#3f30c8" stroke-width="1.25" stroke-linejoin="round" stroke-linecap="butt"/>
<path d="M485.32,558.01 L486.32,558.77 L487.32,559.55 L488.32,560.37 L489.32,561.22 L490.32,562.09 L491.32,562.99 L492.32,563.92 L493.32,564.90 L494.32,565.90 L495.32,566.92 L496.32,567.97 L497.32,569.03 L498.32,570.12 L499.32,571.24 L500.32,572.38 L501.32,573.53 L502.32,574.67 L503.32,575.80 L504.32,576.96 L505.32,578.12 L506.32,579.28 L507.32,580.39 L508.32,581.46 L509.32,582.46 L510.32,583.44 L511.32,584.38 L512.32,585.30 L513.32,586.19 L514.32,587.04 L515.32,587.87 L516.32,588.66 L517.32,589.46 L518.32,590.24 L519.32,590.98 L520.32,591.66 L521.32,592.23 L522.32,592.69 L523.32,593.10 L524.32,593.46 L525.32,593.76 L526.18,593.95 L567.22,593.95" fill="none" stroke="#111" stroke-width="1.25" stroke-linejoin="round" stroke-linecap="butt"/>
<path d="M482.02,515.72 L482.02,595.45 L571.52,595.45" fill="none" stroke="#000" stroke-width="1.2" stroke-linecap="square"/>
<path d="M476.62,593.95H482.02M476.62,555.60H482.02M476.62,517.25H482.02M496.52,595.45V601.15M532.72,595.45V601.15M568.92,595.45V601.15" stroke="#000" stroke-width="1.2" fill="none"/>
<path d="M482.11,595.45V598.45M485.62,595.45V598.45M488.49,595.45V598.45M490.91,595.45V598.45M493.01,595.45V598.45M494.86,595.45V598.45M507.42,595.45V598.45M513.79,595.45V598.45M518.31,595.45V598.45M521.82,595.45V598.45M524.69,595.45V598.45M527.11,595.45V598.45M529.21,595.45V598.45M531.06,595.45V598.45M543.62,595.45V598.45M549.99,595.45V598.45M554.51,595.45V598.45M558.02,595.45V598.45M560.89,595.45V598.45M563.31,595.45V598.45M565.41,595.45V598.45M567.26,595.45V598.45" stroke="#000" stroke-width="0.9" fill="none"/>
<rect x="623.69" y="517.25" width="18.25" height="76.70" fill="#eff0f0"/>
<path d="M592.50,569.39 L593.50,570.75 L594.50,572.03 L595.50,573.24 L596.50,574.37 L597.50,575.41 L598.50,576.37 L599.50,577.22 L600.50,577.97 L601.50,578.66 L602.50,579.32 L603.50,580.00 L604.50,580.73 L605.50,581.47 L606.50,582.22 L607.50,582.97 L608.50,583.73 L609.50,584.48 L610.50,585.24 L611.50,586.03 L612.50,586.82 L613.50,587.60 L614.50,588.33 L615.50,589.00 L616.50,589.62 L617.50,590.22 L618.50,590.80 L619.50,591.32 L620.50,591.79 L621.50,592.17 L622.50,592.50 L623.50,592.82 L624.50,593.11 L625.50,593.38 L626.50,593.60 L627.50,593.79 L628.50,593.92 L628.80,593.95 L674.40,593.95" fill="none" stroke="#3f30c8" stroke-width="1.25" stroke-linejoin="round" stroke-linecap="butt"/>
<path d="M592.50,573.77 L593.50,574.89 L594.50,575.97 L595.50,577.02 L596.50,578.05 L597.50,579.04 L598.50,580.00 L599.50,580.93 L600.50,581.85 L601.50,582.73 L602.50,583.58 L603.50,584.37 L604.50,585.09 L605.50,585.77 L606.50,586.41 L607.50,587.01 L608.50,587.60 L609.50,588.19 L610.50,588.77 L611.50,589.36 L612.50,589.93 L613.50,590.49 L614.50,591.02 L615.50,591.51 L616.50,591.97 L617.50,592.41 L618.50,592.83 L619.50,593.23 L620.50,593.60 L621.50,593.95 L674.40,593.95" fill="none" stroke="#111" stroke-width="1.25" stroke-linejoin="round" stroke-linecap="butt"/>
<path d="M589.20,515.72 L589.20,595.45 L678.70,595.45" fill="none" stroke="#000" stroke-width="1.2" stroke-linecap="square"/>
<path d="M583.80,593.95H589.20M583.80,555.60H589.20M583.80,517.25H589.20M603.70,595.45V601.15M639.90,595.45V601.15M676.10,595.45V601.15" stroke="#000" stroke-width="1.2" fill="none"/>
<path d="M589.29,595.45V598.45M592.80,595.45V598.45M595.67,595.45V598.45M598.09,595.45V598.45M600.19,595.45V598.45M602.04,595.45V598.45M614.60,595.45V598.45M620.97,595.45V598.45M625.49,595.45V598.45M629.00,595.45V598.45M631.87,595.45V598.45M634.29,595.45V598.45M636.39,595.45V598.45M638.24,595.45V598.45M650.80,595.45V598.45M657.17,595.45V598.45M661.69,595.45V598.45M665.20,595.45V598.45M668.07,595.45V598.45M670.49,595.45V598.45M672.59,595.45V598.45M674.44,595.45V598.45" stroke="#000" stroke-width="0.9" fill="none"/>
<text transform="translate(8.0,555.00) rotate(-90)" font-size="9.4" text-anchor="middle" fill="#1a1a1a" stroke="#1a1a1a" stroke-width="0.12">Relative economic value</text>
<text transform="translate(19.1,556.10) rotate(-90)" font-size="9.4" text-anchor="middle" fill="#1a1a1a" stroke="#1a1a1a" stroke-width="0.12">0.1% extremes</text>
<rect x="56.60" y="612.80" width="79.82" height="76.70" fill="#eff0f0"/>
<path d="M56.60,624.52 L57.60,624.69 L58.60,624.90 L59.60,625.14 L60.60,625.41 L61.60,625.71 L62.60,626.02 L63.60,626.36 L64.60,626.71 L65.60,627.10 L66.60,627.56 L67.60,628.06 L68.60,628.59 L69.60,629.14 L70.60,629.68 L71.60,630.21 L72.60,630.70 L73.60,631.18 L74.60,631.65 L75.60,632.12 L76.60,632.60 L77.60,633.11 L78.60,633.66 L79.60,634.25 L80.60,634.90 L81.60,635.60 L82.60,636.34 L83.60,637.11 L84.60,637.90 L85.60,638.69 L86.60,639.49 L87.60,640.30 L88.60,641.12 L89.60,641.96 L90.60,642.82 L91.60,643.70 L92.60,644.59 L93.60,645.51 L94.60,646.44 L95.60,647.40 L96.60,648.38 L97.60,649.38 L98.60,650.40 L99.60,651.43 L100.60,652.47 L101.60,653.52 L102.60,654.58 L103.60,655.66 L104.60,656.75 L105.60,657.86 L106.60,658.97 L107.60,660.11 L108.60,661.25 L109.60,662.42 L110.60,663.61 L111.60,664.81 L112.60,666.02 L113.60,667.24 L114.60,668.45 L115.60,669.66 L116.60,670.88 L117.60,672.12 L118.60,673.38 L119.60,674.63 L120.60,675.85 L121.60,677.02 L122.60,678.12 L123.60,679.15 L124.60,680.16 L125.60,681.13 L126.60,682.07 L127.60,682.97 L128.60,683.81 L129.60,684.60 L130.60,685.32 L131.60,685.98 L132.60,686.59 L133.60,687.16 L134.60,687.69 L135.60,688.20 L136.60,688.68 L137.60,689.13 L138.50,689.50" fill="none" stroke="#3f30c8" stroke-width="1.25" stroke-linejoin="round" stroke-linecap="butt"/>
<path d="M56.60,631.09 L57.60,631.39 L58.60,631.72 L59.60,632.06 L60.60,632.42 L61.60,632.80 L62.60,633.19 L63.60,633.59 L64.60,634.01 L65.60,634.45 L66.60,634.91 L67.60,635.39 L68.60,635.90 L69.60,636.42 L70.60,636.95 L71.60,637.49 L72.60,638.04 L73.60,638.60 L74.60,639.18 L75.60,639.76 L76.60,640.37 L77.60,640.99 L78.60,641.64 L79.60,642.31 L80.60,643.00 L81.60,643.72 L82.60,644.47 L83.60,645.24 L84.60,646.03 L85.60,646.84 L86.60,647.67 L87.60,648.53 L88.60,649.41 L89.60,650.31 L90.60,651.25 L91.60,652.21 L92.60,653.21 L93.60,654.24 L94.60,655.31 L95.60,656.42 L96.60,657.57 L97.60,658.76 L98.60,659.98 L99.60,661.25 L100.60,662.55 L101.60,663.88 L102.60,665.22 L103.60,666.58 L104.60,667.99 L105.60,669.47 L106.60,671.04 L107.60,672.72 L108.60,674.55 L109.60,676.75 L110.60,679.23 L111.60,681.74 L112.60,684.02 L113.60,685.96 L114.60,687.74 L115.60,689.36 L115.69,689.50 L138.50,689.50" fill="none" stroke="#111" stroke-width="1.25" stroke-linejoin="round" stroke-linecap="butt"/>
<path d="M53.30,611.27 L53.30,691.00 L142.80,691.00" fill="none" stroke="#000" stroke-width="1.2" stroke-linecap="square"/>
<path d="M47.90,689.50H53.30M47.90,651.15H53.30M47.90,612.80H53.30M67.80,691.00V696.70M104.00,691.00V696.70M140.20,691.00V696.70" stroke="#000" stroke-width="1.2" fill="none"/>
<path d="M53.39,691.00V694.00M56.90,691.00V694.00M59.77,691.00V694.00M62.19,691.00V694.00M64.29,691.00V694.00M66.14,691.00V694.00M78.70,691.00V694.00M85.07,691.00V694.00M89.59,691.00V694.00M93.10,691.00V694.00M95.97,691.00V694.00M98.39,691.00V694.00M100.49,691.00V694.00M102.34,691.00V694.00M114.90,691.00V694.00M121.27,691.00V694.00M125.79,691.00V694.00M129.30,691.00V694.00M132.17,691.00V694.00M134.59,691.00V694.00M136.69,691.00V694.00M138.54,691.00V694.00" stroke="#000" stroke-width="0.9" fill="none"/>
<text x="42.4" y="693.90" font-size="9.4" text-anchor="end" fill="#1a1a1a" stroke="#1a1a1a" stroke-width="0.12">0.0</text>
<text x="42.4" y="655.55" font-size="9.4" text-anchor="end" fill="#1a1a1a" stroke="#1a1a1a" stroke-width="0.12">0.5</text>
<text x="42.4" y="617.20" font-size="9.4" text-anchor="end" fill="#1a1a1a" stroke="#1a1a1a" stroke-width="0.12">1.0</text>
<text x="56.62" y="709.50" font-size="9.4" fill="#1a1a1a" stroke="#1a1a1a" stroke-width="0.12">10<tspan font-size="6.58" dy="-3.4" dx="0.7">−2</tspan></text>
<text x="92.82" y="709.50" font-size="9.4" fill="#1a1a1a" stroke="#1a1a1a" stroke-width="0.12">10<tspan font-size="6.58" dy="-3.4" dx="0.7">−1</tspan></text>
<text x="132.08" y="709.50" font-size="9.4" fill="#1a1a1a" stroke="#1a1a1a" stroke-width="0.12">10<tspan font-size="6.58" dy="-3.4" dx="0.1">0</tspan></text>
<text x="98.05" y="724.40" font-size="9.4" text-anchor="middle" fill="#1a1a1a" stroke="#1a1a1a" stroke-width="0.12">Cost/loss ratio</text>
<rect x="163.78" y="612.80" width="72.78" height="76.70" fill="#eff0f0"/>
<path d="M163.78,633.28 L164.78,633.66 L165.78,634.09 L166.78,634.57 L167.78,635.09 L168.78,635.64 L169.78,636.23 L170.78,636.84 L171.78,637.48 L172.78,638.21 L173.78,639.02 L174.78,639.90 L175.78,640.81 L176.78,641.71 L177.78,642.59 L178.78,643.41 L179.78,644.15 L180.78,644.84 L181.78,645.50 L182.78,646.15 L183.78,646.81 L184.78,647.51 L185.78,648.27 L186.78,649.10 L187.78,650.00 L188.78,650.97 L189.78,651.98 L190.78,653.03 L191.78,654.09 L192.78,655.15 L193.78,656.20 L194.78,657.27 L195.78,658.36 L196.78,659.47 L197.78,660.58 L198.78,661.70 L199.78,662.81 L200.78,663.92 L201.78,665.02 L202.78,666.14 L203.78,667.25 L204.78,668.37 L205.78,669.47 L206.78,670.56 L207.78,671.63 L208.78,672.68 L209.78,673.73 L210.78,674.77 L211.78,675.79 L212.78,676.80 L213.78,677.77 L214.78,678.71 L215.78,679.61 L216.78,680.51 L217.78,681.41 L218.78,682.28 L219.78,683.11 L220.78,683.88 L221.78,684.57 L222.78,685.15 L223.78,685.66 L224.78,686.13 L225.78,686.57 L226.78,686.97 L227.78,687.34 L228.78,687.67 L229.78,687.96 L230.78,688.23 L231.78,688.48 L232.78,688.72 L233.78,688.94 L234.78,689.14 L235.78,689.30 L236.78,689.44 L237.29,689.50 L245.68,689.50" fill="none" stroke="#3f30c8" stroke-width="1.25" stroke-linejoin="round" stroke-linecap="butt"/>
<path d="M163.78,639.41 L164.78,639.88 L165.78,640.37 L166.78,640.87 L167.78,641.39 L168.78,641.92 L169.78,642.47 L170.78,643.03 L171.78,643.60 L172.78,644.19 L173.78,644.80 L174.78,645.42 L175.78,646.07 L176.78,646.73 L177.78,647.40 L178.78,648.09 L179.78,648.79 L180.78,649.51 L181.78,650.25 L182.78,651.00 L183.78,651.77 L184.78,652.56 L185.78,653.37 L186.78,654.20 L187.78,655.04 L188.78,655.90 L189.78,656.79 L190.78,657.70 L191.78,658.63 L192.78,659.58 L193.78,660.57 L194.78,661.58 L195.78,662.63 L196.78,663.71 L197.78,664.82 L198.78,665.96 L199.78,667.11 L200.78,668.30 L201.78,669.50 L202.78,670.74 L203.78,672.01 L204.78,673.31 L205.78,674.64 L206.78,675.99 L207.78,677.36 L208.78,678.78 L209.78,680.28 L210.78,681.81 L211.78,683.36 L212.78,684.88 L213.78,686.34 L214.78,687.73 L215.78,689.05 L216.12,689.50 L245.68,689.50" fill="none" stroke="#111" stroke-width="1.25" stroke-linejoin="round" stroke-linecap="butt"/>
<path d="M160.48,611.27 L160.48,691.00 L249.98,691.00" fill="none" stroke="#000" stroke-width="1.2" stroke-linecap="square"/>
<path d="M155.08,689.50H160.48M155.08,651.15H160.48M155.08,612.80H160.48M174.98,691.00V696.70M211.18,691.00V696.70M247.38,691.00V696.70" stroke="#000" stroke-width="1.2" fill="none"/>
<path d="M160.57,691.00V694.00M164.08,691.00V694.00M166.95,691.00V694.00M169.37,691.00V694.00M171.47,691.00V694.00M173.32,691.00V694.00M185.88,691.00V694.00M192.25,691.00V694.00M196.77,691.00V694.00M200.28,691.00V694.00M203.15,691.00V694.00M205.57,691.00V694.00M207.67,691.00V694.00M209.52,691.00V694.00M222.08,691.00V694.00M228.45,691.00V694.00M232.97,691.00V694.00M236.48,691.00V694.00M239.35,691.00V694.00M241.77,691.00V694.00M243.87,691.00V694.00M245.72,691.00V694.00" stroke="#000" stroke-width="0.9" fill="none"/>
<text x="163.80" y="709.50" font-size="9.4" fill="#1a1a1a" stroke="#1a1a1a" stroke-width="0.12">10<tspan font-size="6.58" dy="-3.4" dx="0.7">−2</tspan></text>
<text x="200.00" y="709.50" font-size="9.4" fill="#1a1a1a" stroke="#1a1a1a" stroke-width="0.12">10<tspan font-size="6.58" dy="-3.4" dx="0.7">−1</tspan></text>
<text x="239.26" y="709.50" font-size="9.4" fill="#1a1a1a" stroke="#1a1a1a" stroke-width="0.12">10<tspan font-size="6.58" dy="-3.4" dx="0.1">0</tspan></text>
<text x="205.23" y="724.40" font-size="9.4" text-anchor="middle" fill="#1a1a1a" stroke="#1a1a1a" stroke-width="0.12">Cost/loss ratio</text>
<rect x="270.96" y="612.80" width="8.81" height="76.70" fill="#eff0f0"/>
<rect x="285.17" y="612.80" width="58.39" height="76.70" fill="#eff0f0"/>
<path d="M270.96,642.33 L271.96,642.90 L272.96,643.52 L273.96,644.16 L274.96,644.84 L275.96,645.55 L276.96,646.28 L277.96,647.07 L278.96,647.95 L279.96,648.87 L280.96,649.76 L281.96,650.58 L282.96,651.28 L283.96,651.90 L284.96,652.47 L285.96,653.04 L286.96,653.65 L287.96,654.35 L288.96,655.16 L289.96,656.09 L290.96,657.10 L291.96,658.16 L292.96,659.24 L293.96,660.30 L294.96,661.32 L295.96,662.32 L296.96,663.32 L297.96,664.32 L298.96,665.32 L299.96,666.32 L300.96,667.32 L301.96,668.32 L302.96,669.32 L303.96,670.32 L304.96,671.32 L305.96,672.32 L306.96,673.32 L307.96,674.32 L308.96,675.32 L309.96,676.33 L310.96,677.39 L311.96,678.48 L312.96,679.55 L313.96,680.59 L314.96,681.56 L315.96,682.44 L316.96,683.21 L317.96,683.94 L318.96,684.62 L319.96,685.27 L320.96,685.87 L321.96,686.42 L322.96,686.91 L323.96,687.33 L324.96,687.73 L325.96,688.10 L326.96,688.45 L327.96,688.76 L328.96,689.04 L329.96,689.28 L330.96,689.47 L331.15,689.50 L352.86,689.50" fill="none" stroke="#3f30c8" stroke-width="1.25" stroke-linejoin="round" stroke-linecap="butt"/>
<path d="M270.96,647.44 L271.96,648.20 L272.96,648.96 L273.96,649.74 L274.96,650.52 L275.96,651.31 L276.96,652.10 L277.96,652.91 L278.96,653.72 L279.96,654.53 L280.96,655.34 L281.96,656.16 L282.96,656.99 L283.96,657.84 L284.96,658.71 L285.96,659.61 L286.96,660.54 L287.96,661.49 L288.96,662.46 L289.96,663.46 L290.96,664.48 L291.96,665.52 L292.96,666.60 L293.96,667.70 L294.96,668.86 L295.96,670.05 L296.96,671.27 L297.96,672.51 L298.96,673.74 L299.96,674.97 L300.96,676.17 L301.96,677.37 L302.96,678.58 L303.96,679.78 L304.96,680.99 L305.96,682.19 L306.96,683.38 L307.96,684.57 L308.96,685.75 L309.96,686.92 L310.96,688.09 L311.96,689.25 L312.18,689.50 L352.86,689.50" fill="none" stroke="#111" stroke-width="1.25" stroke-linejoin="round" stroke-linecap="butt"/>
<path d="M267.66,611.27 L267.66,691.00 L357.16,691.00" fill="none" stroke="#000" stroke-width="1.2" stroke-linecap="square"/>
<path d="M262.26,689.50H267.66M262.26,651.15H267.66M262.26,612.80H267.66M282.16,691.00V696.70M318.36,691.00V696.70M354.56,691.00V696.70" stroke="#000" stroke-width="1.2" fill="none"/>
<path d="M267.75,691.00V694.00M271.26,691.00V694.00M274.13,691.00V694.00M276.55,691.00V694.00M278.65,691.00V694.00M280.50,691.00V694.00M293.06,691.00V694.00M299.43,691.00V694.00M303.95,691.00V694.00M307.46,691.00V694.00M310.33,691.00V694.00M312.75,691.00V694.00M314.85,691.00V694.00M316.70,691.00V694.00M329.26,691.00V694.00M335.63,691.00V694.00M340.15,691.00V694.00M343.66,691.00V694.00M346.53,691.00V694.00M348.95,691.00V694.00M351.05,691.00V694.00M352.90,691.00V694.00" stroke="#000" stroke-width="0.9" fill="none"/>
<text x="270.98" y="709.50" font-size="9.4" fill="#1a1a1a" stroke="#1a1a1a" stroke-width="0.12">10<tspan font-size="6.58" dy="-3.4" dx="0.7">−2</tspan></text>
<text x="307.18" y="709.50" font-size="9.4" fill="#1a1a1a" stroke="#1a1a1a" stroke-width="0.12">10<tspan font-size="6.58" dy="-3.4" dx="0.7">−1</tspan></text>
<text x="346.44" y="709.50" font-size="9.4" fill="#1a1a1a" stroke="#1a1a1a" stroke-width="0.12">10<tspan font-size="6.58" dy="-3.4" dx="0.1">0</tspan></text>
<text x="312.41" y="724.40" font-size="9.4" text-anchor="middle" fill="#1a1a1a" stroke="#1a1a1a" stroke-width="0.12">Cost/loss ratio</text>
<rect x="405.74" y="612.80" width="28.32" height="76.70" fill="#eff0f0"/>
<path d="M378.14,655.18 L379.14,656.10 L380.14,657.05 L381.14,658.02 L382.14,659.01 L383.14,660.03 L384.14,661.12 L385.14,662.23 L386.14,663.31 L387.14,664.30 L388.14,665.19 L389.14,666.00 L390.14,666.78 L391.14,667.57 L392.14,668.38 L393.14,669.27 L394.14,670.23 L395.14,671.24 L396.14,672.28 L397.14,673.31 L398.14,674.31 L399.14,675.26 L400.14,676.19 L401.14,677.10 L402.14,677.99 L403.14,678.84 L404.14,679.65 L405.14,680.42 L406.14,681.16 L407.14,681.87 L408.14,682.55 L409.14,683.19 L410.14,683.78 L411.14,684.33 L412.14,684.85 L413.14,685.35 L414.14,685.82 L415.14,686.26 L416.14,686.68 L417.14,687.08 L418.14,687.45 L419.14,687.80 L420.14,688.14 L421.14,688.46 L422.14,688.76 L423.14,689.04 L424.14,689.29 L425.01,689.50 L460.04,689.50" fill="none" stroke="#3f30c8" stroke-width="1.25" stroke-linejoin="round" stroke-linecap="butt"/>
<path d="M378.14,662.18 L379.14,662.96 L380.14,663.76 L381.14,664.58 L382.14,665.41 L383.14,666.27 L384.14,667.15 L385.14,668.05 L386.14,668.98 L387.14,669.93 L388.14,670.90 L389.14,671.88 L390.14,672.85 L391.14,673.84 L392.14,674.85 L393.14,675.86 L394.14,676.87 L395.14,677.87 L396.14,678.85 L397.14,679.81 L398.14,680.77 L399.14,681.71 L400.14,682.66 L401.14,683.59 L402.14,684.53 L403.14,685.47 L404.14,686.40 L405.14,687.33 L406.14,688.25 L407.14,689.17 L407.50,689.50 L408.50,689.50 L409.50,689.50 L410.50,689.50 L411.50,689.50 L412.50,689.50 L413.50,689.50 L414.50,689.50 L415.50,689.50 L416.50,689.50 L417.50,689.50 L418.50,689.50 L419.50,689.50 L420.50,689.50 L421.50,689.50 L422.50,689.50 L423.50,689.50 L424.50,689.50 L425.50,689.50 L426.50,689.50 L427.50,689.50 L428.50,689.50 L429.50,689.50 L430.50,689.50 L431.50,689.50 L432.50,689.50 L433.50,689.50 L434.50,689.50 L435.50,689.50 L436.50,689.50 L437.50,689.50 L438.50,689.50 L439.50,689.50 L440.50,689.50 L441.50,689.50 L442.50,689.50 L443.50,689.50 L444.50,689.50 L445.50,689.50 L446.50,689.50 L447.50,689.50 L448.50,689.50 L449.50,689.50 L450.50,689.50 L451.50,689.50 L452.50,689.50 L453.50,689.50 L454.50,689.50 L455.50,689.50 L456.50,689.50 L457.50,689.50 L458.50,689.50 L459.50,689.50 L460.04,689.50" fill="none" stroke="#111" stroke-width="1.25" stroke-linejoin="round" stroke-linecap="butt"/>
<path d="M374.84,611.27 L374.84,691.00 L464.34,691.00" fill="none" stroke="#000" stroke-width="1.2" stroke-linecap="square"/>
<path d="M369.44,689.50H374.84M369.44,651.15H374.84M369.44,612.80H374.84M389.34,691.00V696.70M425.54,691.00V696.70M461.74,691.00V696.70" stroke="#000" stroke-width="1.2" fill="none"/>
<path d="M374.93,691.00V694.00M378.44,691.00V694.00M381.31,691.00V694.00M383.73,691.00V694.00M385.83,691.00V694.00M387.68,691.00V694.00M400.24,691.00V694.00M406.61,691.00V694.00M411.13,691.00V694.00M414.64,691.00V694.00M417.51,691.00V694.00M419.93,691.00V694.00M422.03,691.00V694.00M423.88,691.00V694.00M436.44,691.00V694.00M442.81,691.00V694.00M447.33,691.00V694.00M450.84,691.00V694.00M453.71,691.00V694.00M456.13,691.00V694.00M458.23,691.00V694.00M460.08,691.00V694.00" stroke="#000" stroke-width="0.9" fill="none"/>
<text x="378.16" y="709.50" font-size="9.4" fill="#1a1a1a" stroke="#1a1a1a" stroke-width="0.12">10<tspan font-size="6.58" dy="-3.4" dx="0.7">−2</tspan></text>
<text x="414.36" y="709.50" font-size="9.4" fill="#1a1a1a" stroke="#1a1a1a" stroke-width="0.12">10<tspan font-size="6.58" dy="-3.4" dx="0.7">−1</tspan></text>
<text x="453.62" y="709.50" font-size="9.4" fill="#1a1a1a" stroke="#1a1a1a" stroke-width="0.12">10<tspan font-size="6.58" dy="-3.4" dx="0.1">0</tspan></text>
<text x="419.59" y="724.40" font-size="9.4" text-anchor="middle" fill="#1a1a1a" stroke="#1a1a1a" stroke-width="0.12">Cost/loss ratio</text>
<path d="M485.32,678.24 L486.32,678.79 L487.32,679.35 L488.32,679.90 L489.32,680.45 L490.32,681.00 L491.32,681.55 L492.32,682.11 L493.32,682.68 L494.32,683.25 L495.32,683.80 L496.32,684.33 L497.32,684.83 L498.32,685.31 L499.32,685.78 L500.32,686.23 L501.32,686.66 L502.32,687.09 L503.32,687.50 L504.32,687.90 L505.32,688.29 L506.32,688.66 L507.32,689.03 L508.32,689.38 L508.66,689.50 L567.22,689.50" fill="none" stroke="#3f30c8" stroke-width="1.25" stroke-linejoin="round" stroke-linecap="butt"/>
<path d="M485.32,679.99 L486.32,680.67 L487.32,681.33 L488.32,681.97 L489.32,682.59 L490.32,683.18 L491.32,683.74 L492.32,684.28 L493.32,684.78 L494.32,685.27 L495.32,685.75 L496.32,686.24 L497.32,686.73 L498.32,687.24 L499.32,687.74 L500.32,688.24 L501.32,688.74 L502.32,689.25 L502.82,689.50 L503.82,689.50 L504.82,689.50 L505.82,689.50 L506.82,689.50 L507.82,689.50 L508.82,689.50 L509.82,689.50 L510.82,689.50 L511.82,689.50 L512.82,689.50 L513.82,689.50 L514.82,689.50 L515.82,689.50 L516.82,689.50 L517.82,689.50 L518.82,689.50 L519.82,689.50 L520.82,689.50 L521.82,689.50 L522.82,689.50 L523.82,689.50 L524.82,689.50 L525.82,689.50 L526.82,689.50 L527.82,689.50 L528.82,689.50 L529.82,689.50 L530.82,689.50 L531.82,689.50 L532.82,689.50 L533.82,689.50 L534.82,689.50 L535.82,689.50 L536.82,689.50 L537.82,689.50 L538.82,689.50 L539.82,689.50 L540.82,689.50 L541.82,689.50 L542.82,689.50 L543.82,689.50 L544.82,689.50 L545.82,689.50 L546.82,689.50 L547.82,689.50 L548.82,689.50 L549.82,689.50 L550.82,689.50 L551.82,689.50 L552.82,689.50 L553.82,689.50 L554.82,689.50 L555.82,689.50 L556.82,689.50 L557.82,689.50 L558.82,689.50 L559.82,689.50 L560.82,689.50 L561.82,689.50 L562.82,689.50 L563.82,689.50 L564.82,689.50 L565.82,689.50 L566.82,689.50 L567.22,689.50" fill="none" stroke="#111" stroke-width="1.25" stroke-linejoin="round" stroke-linecap="butt"/>
<path d="M482.02,611.27 L482.02,691.00 L571.52,691.00" fill="none" stroke="#000" stroke-width="1.2" stroke-linecap="square"/>
<path d="M476.62,689.50H482.02M476.62,651.15H482.02M476.62,612.80H482.02M496.52,691.00V696.70M532.72,691.00V696.70M568.92,691.00V696.70" stroke="#000" stroke-width="1.2" fill="none"/>
<path d="M482.11,691.00V694.00M485.62,691.00V694.00M488.49,691.00V694.00M490.91,691.00V694.00M493.01,691.00V694.00M494.86,691.00V694.00M507.42,691.00V694.00M513.79,691.00V694.00M518.31,691.00V694.00M521.82,691.00V694.00M524.69,691.00V694.00M527.11,691.00V694.00M529.21,691.00V694.00M531.06,691.00V694.00M543.62,691.00V694.00M549.99,691.00V694.00M554.51,691.00V694.00M558.02,691.00V694.00M560.89,691.00V694.00M563.31,691.00V694.00M565.41,691.00V694.00M567.26,691.00V694.00" stroke="#000" stroke-width="0.9" fill="none"/>
<text x="485.34" y="709.50" font-size="9.4" fill="#1a1a1a" stroke="#1a1a1a" stroke-width="0.12">10<tspan font-size="6.58" dy="-3.4" dx="0.7">−2</tspan></text>
<text x="521.54" y="709.50" font-size="9.4" fill="#1a1a1a" stroke="#1a1a1a" stroke-width="0.12">10<tspan font-size="6.58" dy="-3.4" dx="0.7">−1</tspan></text>
<text x="560.80" y="709.50" font-size="9.4" fill="#1a1a1a" stroke="#1a1a1a" stroke-width="0.12">10<tspan font-size="6.58" dy="-3.4" dx="0.1">0</tspan></text>
<text x="526.77" y="724.40" font-size="9.4" text-anchor="middle" fill="#1a1a1a" stroke="#1a1a1a" stroke-width="0.12">Cost/loss ratio</text>
<rect x="605.15" y="612.80" width="2.48" height="76.70" fill="#eff0f0"/>
<path d="M592.50,687.00 L593.50,687.20 L594.50,687.40 L595.50,687.61 L596.50,687.82 L597.50,688.03 L598.50,688.25 L599.50,688.47 L600.50,688.69 L601.50,688.92 L602.50,689.15 L603.50,689.39 L603.98,689.50 L674.40,689.50" fill="none" stroke="#3f30c8" stroke-width="1.25" stroke-linejoin="round" stroke-linecap="butt"/>
<path d="M592.50,687.58 L598.14,689.50 L599.14,689.50 L600.14,689.50 L601.14,689.50 L602.14,689.50 L603.14,689.50 L604.14,689.50 L605.14,689.50 L606.14,689.50 L607.14,689.50 L608.14,689.50 L609.14,689.50 L610.14,689.50 L611.14,689.50 L612.14,689.50 L613.14,689.50 L614.14,689.50 L615.14,689.50 L616.14,689.50 L617.14,689.50 L618.14,689.50 L619.14,689.50 L620.14,689.50 L621.14,689.50 L622.14,689.50 L623.14,689.50 L624.14,689.50 L625.14,689.50 L626.14,689.50 L627.14,689.50 L628.14,689.50 L629.14,689.50 L630.14,689.50 L631.14,689.50 L632.14,689.50 L633.14,689.50 L634.14,689.50 L635.14,689.50 L636.14,689.50 L637.14,689.50 L638.14,689.50 L639.14,689.50 L640.14,689.50 L641.14,689.50 L642.14,689.50 L643.14,689.50 L644.14,689.50 L645.14,689.50 L646.14,689.50 L647.14,689.50 L648.14,689.50 L649.14,689.50 L650.14,689.50 L651.14,689.50 L652.14,689.50 L653.14,689.50 L654.14,689.50 L655.14,689.50 L656.14,689.50 L657.14,689.50 L658.14,689.50 L659.14,689.50 L660.14,689.50 L661.14,689.50 L662.14,689.50 L663.14,689.50 L664.14,689.50 L665.14,689.50 L666.14,689.50 L667.14,689.50 L668.14,689.50 L669.14,689.50 L670.14,689.50 L671.14,689.50 L672.14,689.50 L673.14,689.50 L674.14,689.50 L674.40,689.50" fill="none" stroke="#111" stroke-width="1.25" stroke-linejoin="round" stroke-linecap="butt"/>
<path d="M589.20,611.27 L589.20,691.00 L678.70,691.00" fill="none" stroke="#000" stroke-width="1.2" stroke-linecap="square"/>
<path d="M583.80,689.50H589.20M583.80,651.15H589.20M583.80,612.80H589.20M603.70,691.00V696.70M639.90,691.00V696.70M676.10,691.00V696.70" stroke="#000" stroke-width="1.2" fill="none"/>
<path d="M589.29,691.00V694.00M592.80,691.00V694.00M595.67,691.00V694.00M598.09,691.00V694.00M600.19,691.00V694.00M602.04,691.00V694.00M614.60,691.00V694.00M620.97,691.00V694.00M625.49,691.00V694.00M629.00,691.00V694.00M631.87,691.00V694.00M634.29,691.00V694.00M636.39,691.00V694.00M638.24,691.00V694.00M650.80,691.00V694.00M657.17,691.00V694.00M661.69,691.00V694.00M665.20,691.00V694.00M668.07,691.00V694.00M670.49,691.00V694.00M672.59,691.00V694.00M674.44,691.00V694.00" stroke="#000" stroke-width="0.9" fill="none"/>
<text x="592.52" y="709.50" font-size="9.4" fill="#1a1a1a" stroke="#1a1a1a" stroke-width="0.12">10<tspan font-size="6.58" dy="-3.4" dx="0.7">−2</tspan></text>
<text x="628.72" y="709.50" font-size="9.4" fill="#1a1a1a" stroke="#1a1a1a" stroke-width="0.12">10<tspan font-size="6.58" dy="-3.4" dx="0.7">−1</tspan></text>
<text x="667.98" y="709.50" font-size="9.4" fill="#1a1a1a" stroke="#1a1a1a" stroke-width="0.12">10<tspan font-size="6.58" dy="-3.4" dx="0.1">0</tspan></text>
<text x="633.95" y="724.40" font-size="9.4" text-anchor="middle" fill="#1a1a1a" stroke="#1a1a1a" stroke-width="0.12">Cost/loss ratio</text>
<text transform="translate(19.1,652.15) rotate(-90)" font-size="9.4" text-anchor="middle" fill="#1a1a1a" stroke="#1a1a1a" stroke-width="0.12">0.01% extremes</text>
<rect x="118.2" y="741.7" width="21" height="6.4" fill="#eff0f0"/>
<text x="148.8" y="748.9" font-size="10.8" fill="#1a1a1a" stroke="#1a1a1a" stroke-width="0.12">Difference significant at p&lt;0.05</text>
<path d="M344,745.1H366.5" stroke="#5a4edc" stroke-width="1.4"/>
<text x="374.4" y="748.9" font-size="10.8" fill="#1a1a1a" stroke="#1a1a1a" stroke-width="0.12">Gencast</text>
<path d="M440.7,745.0H463.2" stroke="#3c3c3c" stroke-width="1.4"/>
<text x="471.7" y="748.9" font-size="10.8" fill="#1a1a1a" stroke="#1a1a1a" stroke-width="0.12">ENS</text>
</svg>
</body></html>
